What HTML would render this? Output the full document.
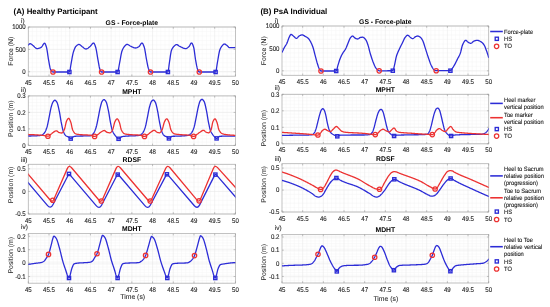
<!DOCTYPE html>
<html><head><meta charset="utf-8"><style>
html,body{margin:0;padding:0;background:#fff;}
body{width:550px;height:307px;overflow:hidden;}
svg{display:block;will-change:transform;filter:blur(0.25px);}
text{font-family:"Liberation Sans", sans-serif;text-rendering:geometricPrecision;}
.tk{font-size:6.75px;fill:#262626;stroke:#262626;stroke-width:0.12px;}
.ti{font-size:6.8px;font-weight:bold;fill:#000;}
.rm{font-size:6.4px;fill:#262626;stroke:#262626;stroke-width:0.1px;}
.yl{font-size:6.85px;fill:#262626;stroke:#262626;stroke-width:0.06px;}
.hd{font-size:7.85px;font-weight:bold;fill:#000;}
.lg{font-size:6.25px;fill:#1a1a1a;stroke:#1a1a1a;stroke-width:0.12px;}
</style></head><body>
<svg width="550" height="307" viewBox="0 0 550 307">
<rect width="550" height="307" fill="#fff"/>
<path d="M32.44 27.00V76.20M36.58 27.00V76.20M40.73 27.00V76.20M44.87 27.00V76.20M53.15 27.00V76.20M57.29 27.00V76.20M61.44 27.00V76.20M65.58 27.00V76.20M73.86 27.00V76.20M78.00 27.00V76.20M82.15 27.00V76.20M86.29 27.00V76.20M94.57 27.00V76.20M98.71 27.00V76.20M102.86 27.00V76.20M107.00 27.00V76.20M115.28 27.00V76.20M119.42 27.00V76.20M123.57 27.00V76.20M127.71 27.00V76.20M135.99 27.00V76.20M140.13 27.00V76.20M144.28 27.00V76.20M148.42 27.00V76.20M156.70 27.00V76.20M160.84 27.00V76.20M164.99 27.00V76.20M169.13 27.00V76.20M177.41 27.00V76.20M181.55 27.00V76.20M185.70 27.00V76.20M189.84 27.00V76.20M198.12 27.00V76.20M202.26 27.00V76.20M206.41 27.00V76.20M210.55 27.00V76.20M218.83 27.00V76.20M222.97 27.00V76.20M227.12 27.00V76.20M231.26 27.00V76.20M28.30 76.20H235.40M28.30 71.73H235.40M28.30 67.25H235.40M28.30 62.78H235.40M28.30 58.31H235.40M28.30 53.84H235.40M28.30 49.36H235.40M28.30 44.89H235.40M28.30 40.42H235.40M28.30 35.95H235.40M28.30 31.47H235.40M28.30 27.00H235.40" stroke="#f4f4f4" stroke-width="0.45" fill="none"/>
<path d="M49.01 27.00V76.20M69.72 27.00V76.20M90.43 27.00V76.20M111.14 27.00V76.20M131.85 27.00V76.20M152.56 27.00V76.20M173.27 27.00V76.20M193.98 27.00V76.20M214.69 27.00V76.20M28.30 71.73H235.40M28.30 49.36H235.40M28.30 27.00H235.40" stroke="#e6e6e6" stroke-width="0.5" fill="none"/>
<clipPath id="cA0"><rect x="28.30" y="27.00" width="207.10" height="49.20"/></clipPath>
<rect x="28.30" y="27.00" width="207.10" height="49.20" fill="none" stroke="#b3b3b3" stroke-width="0.8"/>
<path d="M28.30 76.20v-1.8M28.30 27.00v1.8M49.01 76.20v-1.8M49.01 27.00v1.8M69.72 76.20v-1.8M69.72 27.00v1.8M90.43 76.20v-1.8M90.43 27.00v1.8M111.14 76.20v-1.8M111.14 27.00v1.8M131.85 76.20v-1.8M131.85 27.00v1.8M152.56 76.20v-1.8M152.56 27.00v1.8M173.27 76.20v-1.8M173.27 27.00v1.8M193.98 76.20v-1.8M193.98 27.00v1.8M214.69 76.20v-1.8M214.69 27.00v1.8M235.40 76.20v-1.8M235.40 27.00v1.8M28.30 71.73h1.8M235.40 71.73h-1.8M28.30 49.36h1.8M235.40 49.36h-1.8M28.30 27.00h1.8M235.40 27.00h-1.8" stroke="#8c8c8c" stroke-width="0.5" fill="none"/>
<text transform="translate(28.30 84.80) scale(0.9 1)" text-anchor="middle" class="tk">45</text>
<text transform="translate(49.01 84.80) scale(0.9 1)" text-anchor="middle" class="tk">45.5</text>
<text transform="translate(69.72 84.80) scale(0.9 1)" text-anchor="middle" class="tk">46</text>
<text transform="translate(90.43 84.80) scale(0.9 1)" text-anchor="middle" class="tk">46.5</text>
<text transform="translate(111.14 84.80) scale(0.9 1)" text-anchor="middle" class="tk">47</text>
<text transform="translate(131.85 84.80) scale(0.9 1)" text-anchor="middle" class="tk">47.5</text>
<text transform="translate(152.56 84.80) scale(0.9 1)" text-anchor="middle" class="tk">48</text>
<text transform="translate(173.27 84.80) scale(0.9 1)" text-anchor="middle" class="tk">48.5</text>
<text transform="translate(193.98 84.80) scale(0.9 1)" text-anchor="middle" class="tk">49</text>
<text transform="translate(214.69 84.80) scale(0.9 1)" text-anchor="middle" class="tk">49.5</text>
<text transform="translate(235.40 84.80) scale(0.9 1)" text-anchor="middle" class="tk">50</text>
<text transform="translate(25.70 73.98) scale(0.9 1)" text-anchor="end" class="tk">0</text>
<text transform="translate(25.70 51.61) scale(0.9 1)" text-anchor="end" class="tk">500</text>
<text transform="translate(25.70 29.25) scale(0.9 1)" text-anchor="end" class="tk">1000</text>
<text x="131.85" y="24.70" text-anchor="middle" class="ti">GS - Force-plate</text>
<text x="21.10" y="22.75" class="rm">i)</text>
<text transform="translate(12.50 51.20) rotate(-90)" x="0" y="0" text-anchor="middle" class="yl">Force (N)</text>
<path d="M32.44 95.90V145.40M36.58 95.90V145.40M40.73 95.90V145.40M44.87 95.90V145.40M53.15 95.90V145.40M57.29 95.90V145.40M61.44 95.90V145.40M65.58 95.90V145.40M73.86 95.90V145.40M78.00 95.90V145.40M82.15 95.90V145.40M86.29 95.90V145.40M94.57 95.90V145.40M98.71 95.90V145.40M102.86 95.90V145.40M107.00 95.90V145.40M115.28 95.90V145.40M119.42 95.90V145.40M123.57 95.90V145.40M127.71 95.90V145.40M135.99 95.90V145.40M140.13 95.90V145.40M144.28 95.90V145.40M148.42 95.90V145.40M156.70 95.90V145.40M160.84 95.90V145.40M164.99 95.90V145.40M169.13 95.90V145.40M177.41 95.90V145.40M181.55 95.90V145.40M185.70 95.90V145.40M189.84 95.90V145.40M198.12 95.90V145.40M202.26 95.90V145.40M206.41 95.90V145.40M210.55 95.90V145.40M218.83 95.90V145.40M222.97 95.90V145.40M227.12 95.90V145.40M231.26 95.90V145.40M28.30 145.40H235.40M28.30 142.10H235.40M28.30 138.80H235.40M28.30 135.50H235.40M28.30 132.20H235.40M28.30 128.90H235.40M28.30 125.60H235.40M28.30 122.30H235.40M28.30 119.00H235.40M28.30 115.70H235.40M28.30 112.40H235.40M28.30 109.10H235.40M28.30 105.80H235.40M28.30 102.50H235.40M28.30 99.20H235.40M28.30 95.90H235.40" stroke="#f4f4f4" stroke-width="0.45" fill="none"/>
<path d="M49.01 95.90V145.40M69.72 95.90V145.40M90.43 95.90V145.40M111.14 95.90V145.40M131.85 95.90V145.40M152.56 95.90V145.40M173.27 95.90V145.40M193.98 95.90V145.40M214.69 95.90V145.40M28.30 145.40H235.40M28.30 128.90H235.40M28.30 112.40H235.40M28.30 95.90H235.40" stroke="#e6e6e6" stroke-width="0.5" fill="none"/>
<clipPath id="cA1"><rect x="28.30" y="95.90" width="207.10" height="49.50"/></clipPath>
<rect x="28.30" y="95.90" width="207.10" height="49.50" fill="none" stroke="#b3b3b3" stroke-width="0.8"/>
<path d="M28.30 145.40v-1.8M28.30 95.90v1.8M49.01 145.40v-1.8M49.01 95.90v1.8M69.72 145.40v-1.8M69.72 95.90v1.8M90.43 145.40v-1.8M90.43 95.90v1.8M111.14 145.40v-1.8M111.14 95.90v1.8M131.85 145.40v-1.8M131.85 95.90v1.8M152.56 145.40v-1.8M152.56 95.90v1.8M173.27 145.40v-1.8M173.27 95.90v1.8M193.98 145.40v-1.8M193.98 95.90v1.8M214.69 145.40v-1.8M214.69 95.90v1.8M235.40 145.40v-1.8M235.40 95.90v1.8M28.30 145.40h1.8M235.40 145.40h-1.8M28.30 128.90h1.8M235.40 128.90h-1.8M28.30 112.40h1.8M235.40 112.40h-1.8M28.30 95.90h1.8M235.40 95.90h-1.8" stroke="#8c8c8c" stroke-width="0.5" fill="none"/>
<text transform="translate(28.30 154.00) scale(0.9 1)" text-anchor="middle" class="tk">45</text>
<text transform="translate(49.01 154.00) scale(0.9 1)" text-anchor="middle" class="tk">45.5</text>
<text transform="translate(69.72 154.00) scale(0.9 1)" text-anchor="middle" class="tk">46</text>
<text transform="translate(90.43 154.00) scale(0.9 1)" text-anchor="middle" class="tk">46.5</text>
<text transform="translate(111.14 154.00) scale(0.9 1)" text-anchor="middle" class="tk">47</text>
<text transform="translate(131.85 154.00) scale(0.9 1)" text-anchor="middle" class="tk">47.5</text>
<text transform="translate(152.56 154.00) scale(0.9 1)" text-anchor="middle" class="tk">48</text>
<text transform="translate(173.27 154.00) scale(0.9 1)" text-anchor="middle" class="tk">48.5</text>
<text transform="translate(193.98 154.00) scale(0.9 1)" text-anchor="middle" class="tk">49</text>
<text transform="translate(214.69 154.00) scale(0.9 1)" text-anchor="middle" class="tk">49.5</text>
<text transform="translate(235.40 154.00) scale(0.9 1)" text-anchor="middle" class="tk">50</text>
<text transform="translate(25.70 147.65) scale(0.9 1)" text-anchor="end" class="tk">0</text>
<text transform="translate(25.70 131.15) scale(0.9 1)" text-anchor="end" class="tk">0.1</text>
<text transform="translate(25.70 114.65) scale(0.9 1)" text-anchor="end" class="tk">0.2</text>
<text transform="translate(25.70 98.15) scale(0.9 1)" text-anchor="end" class="tk">0.3</text>
<text x="131.85" y="93.60" text-anchor="middle" class="ti">MPHT</text>
<text x="21.10" y="91.75" class="rm">ii)</text>
<text transform="translate(12.50 118.70) rotate(-90)" x="0" y="0" text-anchor="middle" class="yl">Position (m)</text>
<path d="M32.44 164.30V214.00M36.58 164.30V214.00M40.73 164.30V214.00M44.87 164.30V214.00M53.15 164.30V214.00M57.29 164.30V214.00M61.44 164.30V214.00M65.58 164.30V214.00M73.86 164.30V214.00M78.00 164.30V214.00M82.15 164.30V214.00M86.29 164.30V214.00M94.57 164.30V214.00M98.71 164.30V214.00M102.86 164.30V214.00M107.00 164.30V214.00M115.28 164.30V214.00M119.42 164.30V214.00M123.57 164.30V214.00M127.71 164.30V214.00M135.99 164.30V214.00M140.13 164.30V214.00M144.28 164.30V214.00M148.42 164.30V214.00M156.70 164.30V214.00M160.84 164.30V214.00M164.99 164.30V214.00M169.13 164.30V214.00M177.41 164.30V214.00M181.55 164.30V214.00M185.70 164.30V214.00M189.84 164.30V214.00M198.12 164.30V214.00M202.26 164.30V214.00M206.41 164.30V214.00M210.55 164.30V214.00M218.83 164.30V214.00M222.97 164.30V214.00M227.12 164.30V214.00M231.26 164.30V214.00M28.30 214.00H235.40M28.30 209.48H235.40M28.30 204.96H235.40M28.30 200.45H235.40M28.30 195.93H235.40M28.30 191.41H235.40M28.30 186.89H235.40M28.30 182.37H235.40M28.30 177.85H235.40M28.30 173.34H235.40M28.30 168.82H235.40M28.30 164.30H235.40" stroke="#f4f4f4" stroke-width="0.45" fill="none"/>
<path d="M49.01 164.30V214.00M69.72 164.30V214.00M90.43 164.30V214.00M111.14 164.30V214.00M131.85 164.30V214.00M152.56 164.30V214.00M173.27 164.30V214.00M193.98 164.30V214.00M214.69 164.30V214.00M28.30 214.00H235.40M28.30 191.41H235.40M28.30 168.82H235.40" stroke="#e6e6e6" stroke-width="0.5" fill="none"/>
<clipPath id="cA2"><rect x="28.30" y="164.30" width="207.10" height="49.70"/></clipPath>
<rect x="28.30" y="164.30" width="207.10" height="49.70" fill="none" stroke="#b3b3b3" stroke-width="0.8"/>
<path d="M28.30 214.00v-1.8M28.30 164.30v1.8M49.01 214.00v-1.8M49.01 164.30v1.8M69.72 214.00v-1.8M69.72 164.30v1.8M90.43 214.00v-1.8M90.43 164.30v1.8M111.14 214.00v-1.8M111.14 164.30v1.8M131.85 214.00v-1.8M131.85 164.30v1.8M152.56 214.00v-1.8M152.56 164.30v1.8M173.27 214.00v-1.8M173.27 164.30v1.8M193.98 214.00v-1.8M193.98 164.30v1.8M214.69 214.00v-1.8M214.69 164.30v1.8M235.40 214.00v-1.8M235.40 164.30v1.8M28.30 214.00h1.8M235.40 214.00h-1.8M28.30 191.41h1.8M235.40 191.41h-1.8M28.30 168.82h1.8M235.40 168.82h-1.8" stroke="#8c8c8c" stroke-width="0.5" fill="none"/>
<text transform="translate(28.30 222.60) scale(0.9 1)" text-anchor="middle" class="tk">45</text>
<text transform="translate(49.01 222.60) scale(0.9 1)" text-anchor="middle" class="tk">45.5</text>
<text transform="translate(69.72 222.60) scale(0.9 1)" text-anchor="middle" class="tk">46</text>
<text transform="translate(90.43 222.60) scale(0.9 1)" text-anchor="middle" class="tk">46.5</text>
<text transform="translate(111.14 222.60) scale(0.9 1)" text-anchor="middle" class="tk">47</text>
<text transform="translate(131.85 222.60) scale(0.9 1)" text-anchor="middle" class="tk">47.5</text>
<text transform="translate(152.56 222.60) scale(0.9 1)" text-anchor="middle" class="tk">48</text>
<text transform="translate(173.27 222.60) scale(0.9 1)" text-anchor="middle" class="tk">48.5</text>
<text transform="translate(193.98 222.60) scale(0.9 1)" text-anchor="middle" class="tk">49</text>
<text transform="translate(214.69 222.60) scale(0.9 1)" text-anchor="middle" class="tk">49.5</text>
<text transform="translate(235.40 222.60) scale(0.9 1)" text-anchor="middle" class="tk">50</text>
<text transform="translate(25.70 216.25) scale(0.9 1)" text-anchor="end" class="tk">-0.5</text>
<text transform="translate(25.70 193.66) scale(0.9 1)" text-anchor="end" class="tk">0</text>
<text transform="translate(25.70 171.07) scale(0.9 1)" text-anchor="end" class="tk">0.5</text>
<text x="131.85" y="162.00" text-anchor="middle" class="ti">RDSF</text>
<text x="21.10" y="161.70" class="rm">iii)</text>
<text transform="translate(12.50 184.90) rotate(-90)" x="0" y="0" text-anchor="middle" class="yl">Position (m)</text>
<path d="M32.44 233.60V283.20M36.58 233.60V283.20M40.73 233.60V283.20M44.87 233.60V283.20M53.15 233.60V283.20M57.29 233.60V283.20M61.44 233.60V283.20M65.58 233.60V283.20M73.86 233.60V283.20M78.00 233.60V283.20M82.15 233.60V283.20M86.29 233.60V283.20M94.57 233.60V283.20M98.71 233.60V283.20M102.86 233.60V283.20M107.00 233.60V283.20M115.28 233.60V283.20M119.42 233.60V283.20M123.57 233.60V283.20M127.71 233.60V283.20M135.99 233.60V283.20M140.13 233.60V283.20M144.28 233.60V283.20M148.42 233.60V283.20M156.70 233.60V283.20M160.84 233.60V283.20M164.99 233.60V283.20M169.13 233.60V283.20M177.41 233.60V283.20M181.55 233.60V283.20M185.70 233.60V283.20M189.84 233.60V283.20M198.12 233.60V283.20M202.26 233.60V283.20M206.41 233.60V283.20M210.55 233.60V283.20M218.83 233.60V283.20M222.97 233.60V283.20M227.12 233.60V283.20M231.26 233.60V283.20M28.30 283.20H235.40M28.30 280.52H235.40M28.30 277.84H235.40M28.30 275.16H235.40M28.30 272.48H235.40M28.30 269.79H235.40M28.30 267.11H235.40M28.30 264.43H235.40M28.30 261.75H235.40M28.30 259.07H235.40M28.30 256.39H235.40M28.30 253.71H235.40M28.30 251.03H235.40M28.30 248.35H235.40M28.30 245.66H235.40M28.30 242.98H235.40M28.30 240.30H235.40M28.30 237.62H235.40M28.30 234.94H235.40" stroke="#f4f4f4" stroke-width="0.45" fill="none"/>
<path d="M49.01 233.60V283.20M69.72 233.60V283.20M90.43 233.60V283.20M111.14 233.60V283.20M131.85 233.60V283.20M152.56 233.60V283.20M173.27 233.60V283.20M193.98 233.60V283.20M214.69 233.60V283.20M28.30 276.50H235.40M28.30 263.09H235.40M28.30 249.69H235.40M28.30 236.28H235.40" stroke="#e6e6e6" stroke-width="0.5" fill="none"/>
<clipPath id="cA3"><rect x="28.30" y="233.60" width="207.10" height="49.60"/></clipPath>
<rect x="28.30" y="233.60" width="207.10" height="49.60" fill="none" stroke="#b3b3b3" stroke-width="0.8"/>
<path d="M28.30 283.20v-1.8M28.30 233.60v1.8M49.01 283.20v-1.8M49.01 233.60v1.8M69.72 283.20v-1.8M69.72 233.60v1.8M90.43 283.20v-1.8M90.43 233.60v1.8M111.14 283.20v-1.8M111.14 233.60v1.8M131.85 283.20v-1.8M131.85 233.60v1.8M152.56 283.20v-1.8M152.56 233.60v1.8M173.27 283.20v-1.8M173.27 233.60v1.8M193.98 283.20v-1.8M193.98 233.60v1.8M214.69 283.20v-1.8M214.69 233.60v1.8M235.40 283.20v-1.8M235.40 233.60v1.8M28.30 276.50h1.8M235.40 276.50h-1.8M28.30 263.09h1.8M235.40 263.09h-1.8M28.30 249.69h1.8M235.40 249.69h-1.8M28.30 236.28h1.8M235.40 236.28h-1.8" stroke="#8c8c8c" stroke-width="0.5" fill="none"/>
<text transform="translate(28.30 291.80) scale(0.9 1)" text-anchor="middle" class="tk">45</text>
<text transform="translate(49.01 291.80) scale(0.9 1)" text-anchor="middle" class="tk">45.5</text>
<text transform="translate(69.72 291.80) scale(0.9 1)" text-anchor="middle" class="tk">46</text>
<text transform="translate(90.43 291.80) scale(0.9 1)" text-anchor="middle" class="tk">46.5</text>
<text transform="translate(111.14 291.80) scale(0.9 1)" text-anchor="middle" class="tk">47</text>
<text transform="translate(131.85 291.80) scale(0.9 1)" text-anchor="middle" class="tk">47.5</text>
<text transform="translate(152.56 291.80) scale(0.9 1)" text-anchor="middle" class="tk">48</text>
<text transform="translate(173.27 291.80) scale(0.9 1)" text-anchor="middle" class="tk">48.5</text>
<text transform="translate(193.98 291.80) scale(0.9 1)" text-anchor="middle" class="tk">49</text>
<text transform="translate(214.69 291.80) scale(0.9 1)" text-anchor="middle" class="tk">49.5</text>
<text transform="translate(235.40 291.80) scale(0.9 1)" text-anchor="middle" class="tk">50</text>
<text transform="translate(25.70 278.75) scale(0.9 1)" text-anchor="end" class="tk">-0.1</text>
<text transform="translate(25.70 265.34) scale(0.9 1)" text-anchor="end" class="tk">0</text>
<text transform="translate(25.70 251.94) scale(0.9 1)" text-anchor="end" class="tk">0.1</text>
<text transform="translate(25.70 238.53) scale(0.9 1)" text-anchor="end" class="tk">0.2</text>
<text x="131.85" y="231.30" text-anchor="middle" class="ti">MDHT</text>
<text x="21.10" y="228.80" class="rm">iv)</text>
<text transform="translate(12.50 255.20) rotate(-90)" x="0" y="0" text-anchor="middle" class="yl">Position (m)</text>
<path d="M286.13 26.00V75.30M290.27 26.00V75.30M294.40 26.00V75.30M298.54 26.00V75.30M306.80 26.00V75.30M310.94 26.00V75.30M315.07 26.00V75.30M319.21 26.00V75.30M327.47 26.00V75.30M331.61 26.00V75.30M335.74 26.00V75.30M339.88 26.00V75.30M348.14 26.00V75.30M352.28 26.00V75.30M356.41 26.00V75.30M360.55 26.00V75.30M368.81 26.00V75.30M372.95 26.00V75.30M377.08 26.00V75.30M381.22 26.00V75.30M389.48 26.00V75.30M393.62 26.00V75.30M397.75 26.00V75.30M401.89 26.00V75.30M410.15 26.00V75.30M414.29 26.00V75.30M418.42 26.00V75.30M422.56 26.00V75.30M430.82 26.00V75.30M434.96 26.00V75.30M439.09 26.00V75.30M443.23 26.00V75.30M451.49 26.00V75.30M455.63 26.00V75.30M459.76 26.00V75.30M463.90 26.00V75.30M472.16 26.00V75.30M476.30 26.00V75.30M480.43 26.00V75.30M484.57 26.00V75.30M282.00 75.30H488.70M282.00 70.82H488.70M282.00 66.34H488.70M282.00 61.85H488.70M282.00 57.37H488.70M282.00 52.89H488.70M282.00 48.41H488.70M282.00 43.93H488.70M282.00 39.45H488.70M282.00 34.96H488.70M282.00 30.48H488.70M282.00 26.00H488.70" stroke="#f4f4f4" stroke-width="0.45" fill="none"/>
<path d="M302.67 26.00V75.30M323.34 26.00V75.30M344.01 26.00V75.30M364.68 26.00V75.30M385.35 26.00V75.30M406.02 26.00V75.30M426.69 26.00V75.30M447.36 26.00V75.30M468.03 26.00V75.30M282.00 70.82H488.70M282.00 48.41H488.70M282.00 26.00H488.70" stroke="#e6e6e6" stroke-width="0.5" fill="none"/>
<clipPath id="cB0"><rect x="282.00" y="26.00" width="206.70" height="49.30"/></clipPath>
<rect x="282.00" y="26.00" width="206.70" height="49.30" fill="none" stroke="#b3b3b3" stroke-width="0.8"/>
<path d="M282.00 75.30v-1.8M282.00 26.00v1.8M302.67 75.30v-1.8M302.67 26.00v1.8M323.34 75.30v-1.8M323.34 26.00v1.8M344.01 75.30v-1.8M344.01 26.00v1.8M364.68 75.30v-1.8M364.68 26.00v1.8M385.35 75.30v-1.8M385.35 26.00v1.8M406.02 75.30v-1.8M406.02 26.00v1.8M426.69 75.30v-1.8M426.69 26.00v1.8M447.36 75.30v-1.8M447.36 26.00v1.8M468.03 75.30v-1.8M468.03 26.00v1.8M488.70 75.30v-1.8M488.70 26.00v1.8M282.00 70.82h1.8M488.70 70.82h-1.8M282.00 48.41h1.8M488.70 48.41h-1.8M282.00 26.00h1.8M488.70 26.00h-1.8" stroke="#8c8c8c" stroke-width="0.5" fill="none"/>
<text transform="translate(282.00 83.90) scale(0.9 1)" text-anchor="middle" class="tk">45</text>
<text transform="translate(302.67 83.90) scale(0.9 1)" text-anchor="middle" class="tk">45.5</text>
<text transform="translate(323.34 83.90) scale(0.9 1)" text-anchor="middle" class="tk">46</text>
<text transform="translate(344.01 83.90) scale(0.9 1)" text-anchor="middle" class="tk">46.5</text>
<text transform="translate(364.68 83.90) scale(0.9 1)" text-anchor="middle" class="tk">47</text>
<text transform="translate(385.35 83.90) scale(0.9 1)" text-anchor="middle" class="tk">47.5</text>
<text transform="translate(406.02 83.90) scale(0.9 1)" text-anchor="middle" class="tk">48</text>
<text transform="translate(426.69 83.90) scale(0.9 1)" text-anchor="middle" class="tk">48.5</text>
<text transform="translate(447.36 83.90) scale(0.9 1)" text-anchor="middle" class="tk">49</text>
<text transform="translate(468.03 83.90) scale(0.9 1)" text-anchor="middle" class="tk">49.5</text>
<text transform="translate(488.70 83.90) scale(0.9 1)" text-anchor="middle" class="tk">50</text>
<text transform="translate(279.40 73.07) scale(0.9 1)" text-anchor="end" class="tk">0</text>
<text transform="translate(279.40 50.66) scale(0.9 1)" text-anchor="end" class="tk">500</text>
<text transform="translate(279.40 28.25) scale(0.9 1)" text-anchor="end" class="tk">1000</text>
<text x="385.35" y="23.70" text-anchor="middle" class="ti">GS - Force-plate</text>
<text x="274.80" y="22.55" class="rm">i)</text>
<text transform="translate(266.20 50.70) rotate(-90)" x="0" y="0" text-anchor="middle" class="yl">Force (N)</text>
<path d="M286.13 94.30V143.80M290.27 94.30V143.80M294.40 94.30V143.80M298.54 94.30V143.80M306.80 94.30V143.80M310.94 94.30V143.80M315.07 94.30V143.80M319.21 94.30V143.80M327.47 94.30V143.80M331.61 94.30V143.80M335.74 94.30V143.80M339.88 94.30V143.80M348.14 94.30V143.80M352.28 94.30V143.80M356.41 94.30V143.80M360.55 94.30V143.80M368.81 94.30V143.80M372.95 94.30V143.80M377.08 94.30V143.80M381.22 94.30V143.80M389.48 94.30V143.80M393.62 94.30V143.80M397.75 94.30V143.80M401.89 94.30V143.80M410.15 94.30V143.80M414.29 94.30V143.80M418.42 94.30V143.80M422.56 94.30V143.80M430.82 94.30V143.80M434.96 94.30V143.80M439.09 94.30V143.80M443.23 94.30V143.80M451.49 94.30V143.80M455.63 94.30V143.80M459.76 94.30V143.80M463.90 94.30V143.80M472.16 94.30V143.80M476.30 94.30V143.80M480.43 94.30V143.80M484.57 94.30V143.80M282.00 143.80H488.70M282.00 140.50H488.70M282.00 137.20H488.70M282.00 133.90H488.70M282.00 130.60H488.70M282.00 127.30H488.70M282.00 124.00H488.70M282.00 120.70H488.70M282.00 117.40H488.70M282.00 114.10H488.70M282.00 110.80H488.70M282.00 107.50H488.70M282.00 104.20H488.70M282.00 100.90H488.70M282.00 97.60H488.70M282.00 94.30H488.70" stroke="#f4f4f4" stroke-width="0.45" fill="none"/>
<path d="M302.67 94.30V143.80M323.34 94.30V143.80M344.01 94.30V143.80M364.68 94.30V143.80M385.35 94.30V143.80M406.02 94.30V143.80M426.69 94.30V143.80M447.36 94.30V143.80M468.03 94.30V143.80M282.00 143.80H488.70M282.00 127.30H488.70M282.00 110.80H488.70M282.00 94.30H488.70" stroke="#e6e6e6" stroke-width="0.5" fill="none"/>
<clipPath id="cB1"><rect x="282.00" y="94.30" width="206.70" height="49.50"/></clipPath>
<rect x="282.00" y="94.30" width="206.70" height="49.50" fill="none" stroke="#b3b3b3" stroke-width="0.8"/>
<path d="M282.00 143.80v-1.8M282.00 94.30v1.8M302.67 143.80v-1.8M302.67 94.30v1.8M323.34 143.80v-1.8M323.34 94.30v1.8M344.01 143.80v-1.8M344.01 94.30v1.8M364.68 143.80v-1.8M364.68 94.30v1.8M385.35 143.80v-1.8M385.35 94.30v1.8M406.02 143.80v-1.8M406.02 94.30v1.8M426.69 143.80v-1.8M426.69 94.30v1.8M447.36 143.80v-1.8M447.36 94.30v1.8M468.03 143.80v-1.8M468.03 94.30v1.8M488.70 143.80v-1.8M488.70 94.30v1.8M282.00 143.80h1.8M488.70 143.80h-1.8M282.00 127.30h1.8M488.70 127.30h-1.8M282.00 110.80h1.8M488.70 110.80h-1.8M282.00 94.30h1.8M488.70 94.30h-1.8" stroke="#8c8c8c" stroke-width="0.5" fill="none"/>
<text transform="translate(282.00 152.40) scale(0.9 1)" text-anchor="middle" class="tk">45</text>
<text transform="translate(302.67 152.40) scale(0.9 1)" text-anchor="middle" class="tk">45.5</text>
<text transform="translate(323.34 152.40) scale(0.9 1)" text-anchor="middle" class="tk">46</text>
<text transform="translate(344.01 152.40) scale(0.9 1)" text-anchor="middle" class="tk">46.5</text>
<text transform="translate(364.68 152.40) scale(0.9 1)" text-anchor="middle" class="tk">47</text>
<text transform="translate(385.35 152.40) scale(0.9 1)" text-anchor="middle" class="tk">47.5</text>
<text transform="translate(406.02 152.40) scale(0.9 1)" text-anchor="middle" class="tk">48</text>
<text transform="translate(426.69 152.40) scale(0.9 1)" text-anchor="middle" class="tk">48.5</text>
<text transform="translate(447.36 152.40) scale(0.9 1)" text-anchor="middle" class="tk">49</text>
<text transform="translate(468.03 152.40) scale(0.9 1)" text-anchor="middle" class="tk">49.5</text>
<text transform="translate(488.70 152.40) scale(0.9 1)" text-anchor="middle" class="tk">50</text>
<text transform="translate(279.40 146.05) scale(0.9 1)" text-anchor="end" class="tk">0</text>
<text transform="translate(279.40 129.55) scale(0.9 1)" text-anchor="end" class="tk">0.1</text>
<text transform="translate(279.40 113.05) scale(0.9 1)" text-anchor="end" class="tk">0.2</text>
<text transform="translate(279.40 96.55) scale(0.9 1)" text-anchor="end" class="tk">0.3</text>
<text x="385.35" y="92.00" text-anchor="middle" class="ti">MPHT</text>
<text x="274.80" y="89.85" class="rm">ii)</text>
<text transform="translate(266.20 128.20) rotate(-90)" x="0" y="0" text-anchor="middle" class="yl">Position (m)</text>
<path d="M286.13 163.70V212.00M290.27 163.70V212.00M294.40 163.70V212.00M298.54 163.70V212.00M306.80 163.70V212.00M310.94 163.70V212.00M315.07 163.70V212.00M319.21 163.70V212.00M327.47 163.70V212.00M331.61 163.70V212.00M335.74 163.70V212.00M339.88 163.70V212.00M348.14 163.70V212.00M352.28 163.70V212.00M356.41 163.70V212.00M360.55 163.70V212.00M368.81 163.70V212.00M372.95 163.70V212.00M377.08 163.70V212.00M381.22 163.70V212.00M389.48 163.70V212.00M393.62 163.70V212.00M397.75 163.70V212.00M401.89 163.70V212.00M410.15 163.70V212.00M414.29 163.70V212.00M418.42 163.70V212.00M422.56 163.70V212.00M430.82 163.70V212.00M434.96 163.70V212.00M439.09 163.70V212.00M443.23 163.70V212.00M451.49 163.70V212.00M455.63 163.70V212.00M459.76 163.70V212.00M463.90 163.70V212.00M472.16 163.70V212.00M476.30 163.70V212.00M480.43 163.70V212.00M484.57 163.70V212.00M282.00 212.00H488.70M282.00 207.61H488.70M282.00 203.22H488.70M282.00 198.83H488.70M282.00 194.44H488.70M282.00 190.05H488.70M282.00 185.65H488.70M282.00 181.26H488.70M282.00 176.87H488.70M282.00 172.48H488.70M282.00 168.09H488.70M282.00 163.70H488.70" stroke="#f4f4f4" stroke-width="0.45" fill="none"/>
<path d="M302.67 163.70V212.00M323.34 163.70V212.00M344.01 163.70V212.00M364.68 163.70V212.00M385.35 163.70V212.00M406.02 163.70V212.00M426.69 163.70V212.00M447.36 163.70V212.00M468.03 163.70V212.00M282.00 212.00H488.70M282.00 190.05H488.70M282.00 168.09H488.70" stroke="#e6e6e6" stroke-width="0.5" fill="none"/>
<clipPath id="cB2"><rect x="282.00" y="163.70" width="206.70" height="48.30"/></clipPath>
<rect x="282.00" y="163.70" width="206.70" height="48.30" fill="none" stroke="#b3b3b3" stroke-width="0.8"/>
<path d="M282.00 212.00v-1.8M282.00 163.70v1.8M302.67 212.00v-1.8M302.67 163.70v1.8M323.34 212.00v-1.8M323.34 163.70v1.8M344.01 212.00v-1.8M344.01 163.70v1.8M364.68 212.00v-1.8M364.68 163.70v1.8M385.35 212.00v-1.8M385.35 163.70v1.8M406.02 212.00v-1.8M406.02 163.70v1.8M426.69 212.00v-1.8M426.69 163.70v1.8M447.36 212.00v-1.8M447.36 163.70v1.8M468.03 212.00v-1.8M468.03 163.70v1.8M488.70 212.00v-1.8M488.70 163.70v1.8M282.00 212.00h1.8M488.70 212.00h-1.8M282.00 190.05h1.8M488.70 190.05h-1.8M282.00 168.09h1.8M488.70 168.09h-1.8" stroke="#8c8c8c" stroke-width="0.5" fill="none"/>
<text transform="translate(282.00 220.60) scale(0.9 1)" text-anchor="middle" class="tk">45</text>
<text transform="translate(302.67 220.60) scale(0.9 1)" text-anchor="middle" class="tk">45.5</text>
<text transform="translate(323.34 220.60) scale(0.9 1)" text-anchor="middle" class="tk">46</text>
<text transform="translate(344.01 220.60) scale(0.9 1)" text-anchor="middle" class="tk">46.5</text>
<text transform="translate(364.68 220.60) scale(0.9 1)" text-anchor="middle" class="tk">47</text>
<text transform="translate(385.35 220.60) scale(0.9 1)" text-anchor="middle" class="tk">47.5</text>
<text transform="translate(406.02 220.60) scale(0.9 1)" text-anchor="middle" class="tk">48</text>
<text transform="translate(426.69 220.60) scale(0.9 1)" text-anchor="middle" class="tk">48.5</text>
<text transform="translate(447.36 220.60) scale(0.9 1)" text-anchor="middle" class="tk">49</text>
<text transform="translate(468.03 220.60) scale(0.9 1)" text-anchor="middle" class="tk">49.5</text>
<text transform="translate(488.70 220.60) scale(0.9 1)" text-anchor="middle" class="tk">50</text>
<text transform="translate(279.40 214.25) scale(0.9 1)" text-anchor="end" class="tk">-0.5</text>
<text transform="translate(279.40 192.30) scale(0.9 1)" text-anchor="end" class="tk">0</text>
<text transform="translate(279.40 170.34) scale(0.9 1)" text-anchor="end" class="tk">0.5</text>
<text x="385.35" y="161.40" text-anchor="middle" class="ti">RDSF</text>
<text x="274.80" y="160.75" class="rm">iii)</text>
<text transform="translate(266.20 184.40) rotate(-90)" x="0" y="0" text-anchor="middle" class="yl">Position (m)</text>
<path d="M286.13 234.40V283.00M290.27 234.40V283.00M294.40 234.40V283.00M298.54 234.40V283.00M306.80 234.40V283.00M310.94 234.40V283.00M315.07 234.40V283.00M319.21 234.40V283.00M327.47 234.40V283.00M331.61 234.40V283.00M335.74 234.40V283.00M339.88 234.40V283.00M348.14 234.40V283.00M352.28 234.40V283.00M356.41 234.40V283.00M360.55 234.40V283.00M368.81 234.40V283.00M372.95 234.40V283.00M377.08 234.40V283.00M381.22 234.40V283.00M389.48 234.40V283.00M393.62 234.40V283.00M397.75 234.40V283.00M401.89 234.40V283.00M410.15 234.40V283.00M414.29 234.40V283.00M418.42 234.40V283.00M422.56 234.40V283.00M430.82 234.40V283.00M434.96 234.40V283.00M439.09 234.40V283.00M443.23 234.40V283.00M451.49 234.40V283.00M455.63 234.40V283.00M459.76 234.40V283.00M463.90 234.40V283.00M472.16 234.40V283.00M476.30 234.40V283.00M480.43 234.40V283.00M484.57 234.40V283.00M282.00 283.00H488.70M282.00 280.37H488.70M282.00 277.75H488.70M282.00 275.12H488.70M282.00 272.49H488.70M282.00 269.86H488.70M282.00 267.24H488.70M282.00 264.61H488.70M282.00 261.98H488.70M282.00 259.36H488.70M282.00 256.73H488.70M282.00 254.10H488.70M282.00 251.48H488.70M282.00 248.85H488.70M282.00 246.22H488.70M282.00 243.59H488.70M282.00 240.97H488.70M282.00 238.34H488.70M282.00 235.71H488.70" stroke="#f4f4f4" stroke-width="0.45" fill="none"/>
<path d="M302.67 234.40V283.00M323.34 234.40V283.00M344.01 234.40V283.00M364.68 234.40V283.00M385.35 234.40V283.00M406.02 234.40V283.00M426.69 234.40V283.00M447.36 234.40V283.00M468.03 234.40V283.00M282.00 276.43H488.70M282.00 263.30H488.70M282.00 250.16H488.70M282.00 237.03H488.70" stroke="#e6e6e6" stroke-width="0.5" fill="none"/>
<clipPath id="cB3"><rect x="282.00" y="234.40" width="206.70" height="48.60"/></clipPath>
<rect x="282.00" y="234.40" width="206.70" height="48.60" fill="none" stroke="#b3b3b3" stroke-width="0.8"/>
<path d="M282.00 283.00v-1.8M282.00 234.40v1.8M302.67 283.00v-1.8M302.67 234.40v1.8M323.34 283.00v-1.8M323.34 234.40v1.8M344.01 283.00v-1.8M344.01 234.40v1.8M364.68 283.00v-1.8M364.68 234.40v1.8M385.35 283.00v-1.8M385.35 234.40v1.8M406.02 283.00v-1.8M406.02 234.40v1.8M426.69 283.00v-1.8M426.69 234.40v1.8M447.36 283.00v-1.8M447.36 234.40v1.8M468.03 283.00v-1.8M468.03 234.40v1.8M488.70 283.00v-1.8M488.70 234.40v1.8M282.00 276.43h1.8M488.70 276.43h-1.8M282.00 263.30h1.8M488.70 263.30h-1.8M282.00 250.16h1.8M488.70 250.16h-1.8M282.00 237.03h1.8M488.70 237.03h-1.8" stroke="#8c8c8c" stroke-width="0.5" fill="none"/>
<text transform="translate(282.00 291.60) scale(0.9 1)" text-anchor="middle" class="tk">45</text>
<text transform="translate(302.67 291.60) scale(0.9 1)" text-anchor="middle" class="tk">45.5</text>
<text transform="translate(323.34 291.60) scale(0.9 1)" text-anchor="middle" class="tk">46</text>
<text transform="translate(344.01 291.60) scale(0.9 1)" text-anchor="middle" class="tk">46.5</text>
<text transform="translate(364.68 291.60) scale(0.9 1)" text-anchor="middle" class="tk">47</text>
<text transform="translate(385.35 291.60) scale(0.9 1)" text-anchor="middle" class="tk">47.5</text>
<text transform="translate(406.02 291.60) scale(0.9 1)" text-anchor="middle" class="tk">48</text>
<text transform="translate(426.69 291.60) scale(0.9 1)" text-anchor="middle" class="tk">48.5</text>
<text transform="translate(447.36 291.60) scale(0.9 1)" text-anchor="middle" class="tk">49</text>
<text transform="translate(468.03 291.60) scale(0.9 1)" text-anchor="middle" class="tk">49.5</text>
<text transform="translate(488.70 291.60) scale(0.9 1)" text-anchor="middle" class="tk">50</text>
<text transform="translate(279.40 278.68) scale(0.9 1)" text-anchor="end" class="tk">-0.1</text>
<text transform="translate(279.40 265.55) scale(0.9 1)" text-anchor="end" class="tk">0</text>
<text transform="translate(279.40 252.41) scale(0.9 1)" text-anchor="end" class="tk">0.1</text>
<text transform="translate(279.40 239.28) scale(0.9 1)" text-anchor="end" class="tk">0.2</text>
<text x="385.35" y="232.10" text-anchor="middle" class="ti">MDHT</text>
<text x="274.80" y="229.75" class="rm">iv)</text>
<text transform="translate(266.20 262.30) rotate(-90)" x="0" y="0" text-anchor="middle" class="yl">Position (m)</text>
<polyline clip-path="url(#cA0)" points="28.3,45.00 28.7,44.55 29.1,44.18 29.5,43.90 29.9,43.74 30.3,43.70 30.7,43.80 31.1,44.00 31.5,44.28 31.9,44.60 32.3,44.94 32.7,45.28 33.1,45.57 33.5,45.90 33.9,46.28 34.3,46.68 34.7,47.10 35.1,47.50 35.5,47.86 35.9,48.18 36.3,48.42 36.7,48.56 37.1,48.60 37.5,48.58 37.9,48.53 38.3,48.46 38.7,48.36 39.1,48.25 39.5,48.11 39.9,47.97 40.3,47.80 40.7,47.63 41.1,47.45 41.5,47.11 41.9,46.60 42.3,45.98 42.7,45.31 43.1,44.65 43.5,44.05 43.9,43.57 44.3,43.27 44.7,43.22 45.1,43.61 45.5,44.41 45.9,45.48 46.3,46.69 46.7,48.16 47.1,50.31 47.5,52.90 47.9,55.64 48.3,58.27 48.7,60.54 49.1,62.80 49.5,65.08 49.9,67.15 50.3,68.75 50.7,69.67 51.1,70.33 51.5,70.90 51.9,71.38 52.3,71.74 52.7,71.95 53.1,72.00 53.5,72.00 53.9,72.00 54.3,72.00 54.7,72.00 55.1,72.00 55.5,72.00 55.9,72.00 56.3,72.00 56.7,72.00 57.1,72.00 57.5,72.00 57.9,72.00 58.3,72.00 58.7,72.00 59.1,72.00 59.5,72.00 59.9,72.00 60.3,72.00 60.7,72.00 61.1,72.00 61.5,72.00 61.9,72.00 62.3,72.00 62.7,72.00 63.1,72.00 63.5,72.00 63.9,72.00 64.3,72.00 64.7,72.00 65.1,72.00 65.5,72.00 65.9,72.00 66.3,72.00 66.7,72.00 67.1,72.00 67.5,72.00 67.9,72.00 68.3,72.00 68.7,72.00 69.1,72.00 69.5,71.95 69.9,70.80 70.3,68.63 70.7,66.00 71.1,63.53 71.5,61.43 71.9,59.21 72.3,56.97 72.7,54.88 73.1,53.07 73.5,51.69 73.9,50.52 74.3,49.44 74.7,48.47 75.1,47.63 75.5,46.94 75.9,46.41 76.3,46.00 76.7,45.63 77.1,45.28 77.5,44.98 77.9,44.72 78.3,44.54 78.7,44.43 79.1,44.40 79.5,44.51 79.9,44.73 80.3,45.03 80.7,45.38 81.1,45.75 81.5,46.11 81.9,46.43 82.3,46.71 82.7,47.02 83.1,47.35 83.5,47.68 83.9,48.00 84.3,48.30 84.7,48.57 85.1,48.78 85.5,48.93 85.9,49.00 86.3,48.98 86.7,48.87 87.1,48.70 87.5,48.48 87.9,48.21 88.3,47.90 88.7,47.57 89.1,47.24 89.5,46.90 89.9,46.58 90.3,46.24 90.7,45.81 91.1,45.31 91.5,44.79 91.9,44.28 92.3,43.81 92.7,43.42 93.1,43.14 93.5,43.01 93.9,43.13 94.3,43.67 94.7,44.51 95.1,45.56 95.5,46.71 95.9,48.05 96.3,49.93 96.7,52.20 97.1,54.67 97.5,57.15 97.9,59.47 98.3,61.64 98.7,63.97 99.1,66.19 99.5,68.03 99.9,69.25 100.3,70.22 100.7,71.06 101.1,71.68 101.5,71.99 101.9,72.00 102.3,72.00 102.7,72.00 103.1,72.00 103.5,72.00 103.9,72.00 104.3,72.00 104.7,72.00 105.1,72.00 105.5,72.00 105.9,72.00 106.3,72.00 106.7,72.00 107.1,72.00 107.5,72.00 107.9,72.00 108.3,72.00 108.7,72.00 109.1,72.00 109.5,72.00 109.9,72.00 110.3,72.00 110.7,72.00 111.1,72.00 111.5,72.00 111.9,72.00 112.3,72.00 112.7,72.00 113.1,72.00 113.5,72.00 113.9,72.00 114.3,72.00 114.7,72.00 115.1,72.00 115.5,72.00 115.9,72.00 116.3,72.00 116.7,72.00 117.1,72.00 117.5,72.00 117.9,71.63 118.3,70.22 118.7,68.11 119.1,65.74 119.5,63.49 119.9,61.49 120.3,59.26 120.7,56.95 121.1,54.74 121.5,52.79 121.9,51.29 122.3,50.23 122.7,49.31 123.1,48.50 123.5,47.80 123.9,47.18 124.3,46.65 124.7,46.19 125.1,45.74 125.5,45.31 125.9,44.93 126.3,44.63 126.7,44.45 127.1,44.40 127.5,44.46 127.9,44.59 128.3,44.78 128.7,45.00 129.1,45.26 129.5,45.52 129.9,45.79 130.3,46.04 130.7,46.26 131.1,46.44 131.5,46.62 131.9,46.81 132.3,47.00 132.7,47.19 133.1,47.37 133.5,47.54 133.9,47.69 134.3,47.82 134.7,47.92 135.1,47.98 135.5,48.00 135.9,47.97 136.3,47.89 136.7,47.76 137.1,47.60 137.5,47.40 137.9,47.18 138.3,46.94 138.7,46.69 139.1,46.43 139.5,46.02 139.9,45.46 140.3,44.83 140.7,44.20 141.1,43.64 141.5,43.22 141.9,43.01 142.3,43.11 142.7,43.55 143.1,44.26 143.5,45.16 143.9,46.19 144.3,47.29 144.7,48.90 145.1,51.03 145.5,53.47 145.9,56.00 146.3,58.40 146.7,60.50 147.1,62.57 147.5,64.64 147.9,66.56 148.3,68.14 148.7,69.23 149.1,70.15 149.5,70.96 149.9,71.59 150.3,71.95 150.7,72.00 151.1,72.00 151.5,72.00 151.9,72.00 152.3,72.00 152.7,72.00 153.1,72.00 153.5,72.00 153.9,72.00 154.3,72.00 154.7,72.00 155.1,72.00 155.5,72.00 155.9,72.00 156.3,72.00 156.7,72.00 157.1,72.00 157.5,72.00 157.9,72.00 158.3,72.00 158.7,72.00 159.1,72.00 159.5,72.00 159.9,72.00 160.3,72.00 160.7,72.00 161.1,72.00 161.5,72.00 161.9,72.00 162.3,72.00 162.7,72.00 163.1,72.00 163.5,72.00 163.9,72.00 164.3,72.00 164.7,72.00 165.1,72.00 165.5,72.00 165.9,72.00 166.3,72.00 166.7,72.00 167.1,72.00 167.5,72.00 167.9,72.00 168.3,70.90 168.7,68.23 169.1,64.95 169.5,62.00 169.9,59.33 170.3,56.46 170.7,53.76 171.1,51.58 171.5,50.24 171.9,49.31 172.3,48.52 172.7,47.86 173.1,47.29 173.5,46.81 173.9,46.40 174.3,46.01 174.7,45.63 175.1,45.27 175.5,44.97 175.9,44.74 176.3,44.62 176.7,44.61 177.1,44.71 177.5,44.89 177.9,45.12 178.3,45.39 178.7,45.68 179.1,45.97 179.5,46.23 179.9,46.45 180.3,46.64 180.7,46.83 181.1,47.02 181.5,47.22 181.9,47.42 182.3,47.61 182.7,47.80 183.1,47.98 183.5,48.14 183.9,48.28 184.3,48.40 184.7,48.49 185.1,48.56 185.5,48.60 185.9,48.59 186.3,48.50 186.7,48.33 187.1,48.09 187.5,47.80 187.9,47.48 188.3,47.13 188.7,46.77 189.1,46.40 189.5,45.85 189.9,45.14 190.3,44.38 190.7,43.69 191.1,43.19 191.5,43.00 191.9,43.20 192.3,43.74 192.7,44.56 193.1,45.57 193.5,46.71 193.9,48.22 194.3,50.67 194.7,53.64 195.1,56.71 195.5,59.43 195.9,61.67 196.3,63.89 196.7,65.97 197.1,67.72 197.5,69.00 197.9,69.97 198.3,70.86 198.7,71.55 199.1,71.95 199.5,72.00 199.9,72.00 200.3,72.00 200.7,72.00 201.1,72.00 201.5,72.00 201.9,72.00 202.3,72.00 202.7,72.00 203.1,72.00 203.5,72.00 203.9,72.00 204.3,72.00 204.7,72.00 205.1,72.00 205.5,72.00 205.9,72.00 206.3,72.00 206.7,72.00 207.1,72.00 207.5,72.00 207.9,72.00 208.3,72.00 208.7,72.00 209.1,72.00 209.5,72.00 209.9,72.00 210.3,72.00 210.7,72.00 211.1,72.00 211.5,72.00 211.9,72.00 212.3,72.00 212.7,72.00 213.1,72.00 213.5,72.00 213.9,72.00 214.3,72.00 214.7,72.00 215.1,72.00 215.5,72.00 215.9,71.54 216.3,69.78 216.7,67.23 217.1,64.45 217.5,62.00 217.9,59.76 218.3,57.36 218.7,54.97 219.1,52.79 219.5,50.99 219.9,49.74 220.3,48.77 220.7,47.95 221.1,47.24 221.5,46.63 221.9,46.12 222.3,45.65 222.7,45.19 223.1,44.75 223.5,44.39 223.9,44.13 224.3,44.01 224.7,44.03 225.1,44.17 225.5,44.39 225.9,44.67 226.3,44.98 226.7,45.28 227.1,45.57 227.5,45.94 227.9,46.37 228.3,46.82 228.7,47.23 229.1,47.54 229.5,47.69 229.9,47.70 230.3,47.70 230.7,47.70 231.1,47.70 231.5,47.69 231.9,47.68 232.3,47.68 232.7,47.66 233.1,47.65 233.5,47.62 233.9,47.60 234.3,47.57 234.7,47.53 235.0,47.50" fill="none" stroke="#2c2cd6" stroke-width="1.3" stroke-linejoin="round" stroke-linecap="round"/>
<polyline clip-path="url(#cA1)" points="28.3,136.00 28.7,136.00 29.1,136.00 29.5,136.00 29.9,135.99 30.3,135.99 30.7,135.98 31.1,135.98 31.5,135.97 31.9,135.96 32.3,135.95 32.7,135.94 33.1,135.93 33.5,135.91 33.9,135.90 34.3,135.88 34.7,135.86 35.1,135.84 35.5,135.82 35.9,135.80 36.3,135.78 36.7,135.76 37.1,135.73 37.5,135.70 37.9,135.67 38.3,135.64 38.7,135.61 39.1,135.57 39.5,135.54 39.9,135.50 40.3,135.46 40.7,135.42 41.1,135.37 41.5,135.26 41.9,135.08 42.3,134.84 42.7,134.55 43.1,134.22 43.5,133.84 43.9,133.44 44.3,133.01 44.7,132.52 45.1,131.87 45.5,131.07 45.9,130.14 46.3,129.11 46.7,127.99 47.1,126.75 47.5,125.19 47.9,123.37 48.3,121.40 48.7,119.37 49.1,117.40 49.5,115.37 49.9,113.20 50.3,111.04 50.7,109.05 51.1,107.40 51.5,105.98 51.9,104.65 52.3,103.47 52.7,102.49 53.1,101.80 53.5,101.27 53.9,100.80 54.3,100.44 54.7,100.23 55.1,100.23 55.5,100.44 55.9,100.81 56.3,101.31 56.7,101.89 57.1,102.57 57.5,103.62 57.9,105.00 58.3,106.64 58.7,108.43 59.1,110.28 59.5,112.17 59.9,114.41 60.3,116.87 60.7,119.36 61.1,121.67 61.5,123.68 61.9,125.66 62.3,127.56 62.7,129.29 63.1,130.74 63.5,131.84 63.9,132.76 64.3,133.59 64.7,134.32 65.1,134.93 65.5,135.42 65.9,135.78 66.3,136.05 66.7,136.27 67.1,136.45 67.5,136.61 67.9,136.77 68.3,136.93 68.7,137.13 69.1,137.37 69.5,137.73 69.9,138.13 70.3,138.46 70.7,138.60 71.1,138.52 71.5,138.32 71.9,138.02 72.3,137.67 72.7,137.31 73.1,136.97 73.5,136.70 73.9,136.52 74.3,136.45 74.7,136.38 75.1,136.32 75.5,136.27 75.9,136.23 76.3,136.19 76.7,136.16 77.1,136.13 77.5,136.11 77.9,136.09 78.3,136.08 78.7,136.06 79.1,136.05 79.5,136.04 79.9,136.03 80.3,136.02 80.7,136.01 81.1,136.00 81.5,136.00 81.9,135.99 82.3,135.99 82.7,135.98 83.1,135.98 83.5,135.97 83.9,135.97 84.3,135.96 84.7,135.96 85.1,135.95 85.5,135.95 85.9,135.94 86.3,135.93 86.7,135.92 87.1,135.92 87.5,135.90 87.9,135.89 88.3,135.88 88.7,135.86 89.1,135.85 89.5,135.83 89.9,135.81 90.3,135.76 90.7,135.64 91.1,135.45 91.5,135.20 91.9,134.89 92.3,134.54 92.7,134.15 93.1,133.74 93.5,133.30 93.9,132.77 94.3,132.08 94.7,131.25 95.1,130.30 95.5,129.24 95.9,128.10 96.3,126.79 96.7,125.16 97.1,123.29 97.5,121.29 97.9,119.27 98.3,117.32 98.7,115.27 99.1,113.14 99.5,111.03 99.9,109.09 100.3,107.40 100.7,105.78 101.1,104.22 101.5,102.84 101.9,101.75 102.3,101.06 102.7,100.54 103.1,100.09 103.5,99.76 103.9,99.61 104.3,99.66 104.7,99.92 105.1,100.33 105.5,100.85 105.9,101.45 106.3,102.19 106.7,103.33 107.1,104.79 107.5,106.47 107.9,108.29 108.3,110.14 108.7,112.10 109.1,114.41 109.5,116.90 109.9,119.36 110.3,121.60 110.7,123.58 111.1,125.54 111.5,127.41 111.9,129.08 112.3,130.45 112.7,131.47 113.1,132.31 113.5,133.04 113.9,133.68 114.3,134.26 114.7,134.82 115.1,135.38 115.5,135.91 115.9,136.42 116.3,136.89 116.7,137.31 117.1,137.69 117.5,138.10 117.9,138.48 118.3,138.73 118.7,138.79 119.1,138.68 119.5,138.46 119.9,138.15 120.3,137.80 120.7,137.44 121.1,137.11 121.5,136.85 121.9,136.70 122.3,136.62 122.7,136.54 123.1,136.48 123.5,136.42 123.9,136.37 124.3,136.32 124.7,136.28 125.1,136.24 125.5,136.21 125.9,136.17 126.3,136.14 126.7,136.11 127.1,136.09 127.5,136.06 127.9,136.04 128.3,136.02 128.7,136.00 129.1,135.98 129.5,135.97 129.9,135.95 130.3,135.94 130.7,135.93 131.1,135.91 131.5,135.90 131.9,135.89 132.3,135.87 132.7,135.86 133.1,135.85 133.5,135.83 133.9,135.82 134.3,135.80 134.7,135.78 135.1,135.76 135.5,135.74 135.9,135.71 136.3,135.68 136.7,135.66 137.1,135.62 137.5,135.59 137.9,135.55 138.3,135.51 138.7,135.46 139.1,135.41 139.5,135.34 139.9,135.21 140.3,135.01 140.7,134.76 141.1,134.46 141.5,134.12 141.9,133.74 142.3,133.33 142.7,132.90 143.1,132.37 143.5,131.68 143.9,130.85 144.3,129.90 144.7,128.84 145.1,127.70 145.5,126.39 145.9,124.76 146.3,122.89 146.7,120.89 147.1,118.87 147.5,116.91 147.9,114.84 148.3,112.67 148.7,110.54 149.1,108.62 149.5,107.03 149.9,105.59 150.3,104.23 150.7,103.05 151.1,102.10 151.5,101.47 151.9,100.95 152.3,100.50 152.7,100.17 153.1,100.01 153.5,100.06 153.9,100.32 154.3,100.73 154.7,101.25 155.1,101.85 155.5,102.59 155.9,103.73 156.3,105.19 156.7,106.87 157.1,108.69 157.5,110.54 157.9,112.50 158.3,114.81 158.7,117.30 159.1,119.76 159.5,122.00 159.9,123.98 160.3,125.94 160.7,127.81 161.1,129.48 161.5,130.85 161.9,131.88 162.3,132.78 162.7,133.58 163.1,134.28 163.5,134.86 163.9,135.32 164.3,135.65 164.7,135.91 165.1,136.13 165.5,136.31 165.9,136.47 166.3,136.64 166.7,136.82 167.1,137.04 167.5,137.33 167.9,137.73 168.3,138.11 168.7,138.36 169.1,138.38 169.5,138.22 169.9,137.95 170.3,137.60 170.7,137.23 171.1,136.87 171.5,136.57 171.9,136.36 172.3,136.29 172.7,136.28 173.1,136.26 173.5,136.25 173.9,136.24 174.3,136.24 174.7,136.23 175.1,136.22 175.5,136.21 175.9,136.20 176.3,136.19 176.7,136.17 177.1,136.16 177.5,136.14 177.9,136.13 178.3,136.12 178.7,136.10 179.1,136.09 179.5,136.07 179.9,136.06 180.3,136.04 180.7,136.02 181.1,136.01 181.5,135.99 181.9,135.96 182.3,135.94 182.7,135.92 183.1,135.89 183.5,135.87 183.9,135.84 184.3,135.81 184.7,135.77 185.1,135.74 185.5,135.70 185.9,135.66 186.3,135.61 186.7,135.57 187.1,135.52 187.5,135.47 187.9,135.41 188.3,135.34 188.7,135.20 189.1,135.00 189.5,134.75 189.9,134.46 190.3,134.12 190.7,133.74 191.1,133.33 191.5,132.90 191.9,132.37 192.3,131.68 192.7,130.85 193.1,129.90 193.5,128.84 193.9,127.70 194.3,126.39 194.7,124.76 195.1,122.89 195.5,120.89 195.9,118.87 196.3,116.92 196.7,114.87 197.1,112.73 197.5,110.62 197.9,108.68 198.3,107.00 198.7,105.41 199.1,103.87 199.5,102.51 199.9,101.44 200.3,100.76 200.7,100.24 201.1,99.79 201.5,99.46 201.9,99.31 202.3,99.36 202.7,99.62 203.1,100.03 203.5,100.55 203.9,101.15 204.3,101.89 204.7,103.03 205.1,104.49 205.5,106.17 205.9,107.99 206.3,109.84 206.7,111.80 207.1,114.11 207.5,116.60 207.9,119.06 208.3,121.30 208.7,123.28 209.1,125.24 209.5,127.11 209.9,128.78 210.3,130.15 210.7,131.17 211.1,132.02 211.5,132.75 211.9,133.39 212.3,133.97 212.7,134.53 213.1,135.07 213.5,135.58 213.9,136.06 214.3,136.51 214.7,136.91 215.1,137.29 215.5,137.70 215.9,138.08 216.3,138.33 216.7,138.39 217.1,138.27 217.5,138.03 217.9,137.70 218.3,137.32 218.7,136.96 219.1,136.63 219.5,136.40 219.9,136.30 220.3,136.28 220.7,136.27 221.1,136.25 221.5,136.24 221.9,136.23 222.3,136.22 222.7,136.22 223.1,136.21 223.5,136.20 223.9,136.19 224.3,136.18 224.7,136.18 225.1,136.17 225.5,136.16 225.9,136.15 226.3,136.14 226.7,136.13 227.1,136.13 227.5,136.12 227.9,136.11 228.3,136.10 228.7,136.09 229.1,136.09 229.5,136.08 229.9,136.07 230.3,136.07 230.7,136.06 231.1,136.05 231.5,136.05 231.9,136.04 232.3,136.03 232.7,136.03 233.1,136.02 233.5,136.02 233.9,136.01 234.3,136.01 234.7,136.00 235.0,136.00" fill="none" stroke="#2c2cd6" stroke-width="1.3" stroke-linejoin="round" stroke-linecap="round"/>
<polyline clip-path="url(#cA1)" points="28.3,134.50 28.7,134.51 29.1,134.53 29.5,134.54 29.9,134.56 30.3,134.57 30.7,134.59 31.1,134.60 31.5,134.62 31.9,134.64 32.3,134.66 32.7,134.68 33.1,134.70 33.5,134.72 33.9,134.74 34.3,134.76 34.7,134.78 35.1,134.81 35.5,134.83 35.9,134.85 36.3,134.87 36.7,134.90 37.1,134.92 37.5,134.95 37.9,134.97 38.3,135.00 38.7,135.03 39.1,135.06 39.5,135.09 39.9,135.12 40.3,135.15 40.7,135.18 41.1,135.22 41.5,135.25 41.9,135.29 42.3,135.33 42.7,135.37 43.1,135.41 43.5,135.47 43.9,135.53 44.3,135.61 44.7,135.70 45.1,135.79 45.5,135.88 45.9,135.96 46.3,136.04 46.7,136.10 47.1,136.15 47.5,136.19 47.9,136.20 48.3,136.14 48.7,135.98 49.1,135.74 49.5,135.44 49.9,135.10 50.3,134.75 50.7,134.40 51.1,134.07 51.5,133.77 51.9,133.44 52.3,133.09 52.7,132.75 53.1,132.44 53.5,132.16 53.9,131.92 54.3,131.66 54.7,131.42 55.1,131.19 55.5,131.00 55.9,130.87 56.3,130.80 56.7,130.85 57.1,131.06 57.5,131.38 57.9,131.74 58.3,132.09 58.7,132.37 59.1,132.53 59.5,132.64 59.9,132.74 60.3,132.83 60.7,132.90 61.1,132.96 61.5,132.99 61.9,132.99 62.3,132.82 62.7,132.45 63.1,131.92 63.5,131.28 63.9,130.56 64.3,129.79 64.7,128.56 65.1,126.91 65.5,125.06 65.9,123.27 66.3,121.77 66.7,120.80 67.1,120.03 67.5,119.32 67.9,118.75 68.3,118.39 68.7,118.31 69.1,118.60 69.5,119.18 69.9,119.99 70.3,120.92 70.7,121.90 71.1,123.23 71.5,125.05 71.9,127.02 72.3,128.79 72.7,130.00 73.1,130.79 73.5,131.51 73.9,132.16 74.3,132.72 74.7,133.18 75.1,133.53 75.5,133.76 75.9,133.90 76.3,134.01 76.7,134.11 77.1,134.20 77.5,134.28 77.9,134.35 78.3,134.41 78.7,134.46 79.1,134.51 79.5,134.55 79.9,134.59 80.3,134.63 80.7,134.66 81.1,134.69 81.5,134.72 81.9,134.75 82.3,134.77 82.7,134.79 83.1,134.81 83.5,134.83 83.9,134.84 84.3,134.86 84.7,134.88 85.1,134.89 85.5,134.91 85.9,134.92 86.3,134.94 86.7,134.96 87.1,134.98 87.5,135.00 87.9,135.03 88.3,135.05 88.7,135.08 89.1,135.11 89.5,135.15 89.9,135.19 90.3,135.24 90.7,135.33 91.1,135.44 91.5,135.57 91.9,135.71 92.3,135.86 92.7,136.00 93.1,136.14 93.5,136.25 93.9,136.33 94.3,136.39 94.7,136.40 95.1,136.33 95.5,136.19 95.9,135.98 96.3,135.72 96.7,135.43 97.1,135.11 97.5,134.78 97.9,134.45 98.3,134.14 98.7,133.85 99.1,133.53 99.5,133.18 99.9,132.83 100.3,132.50 100.7,132.19 101.1,131.94 101.5,131.70 101.9,131.45 102.3,131.20 102.7,130.98 103.1,130.79 103.5,130.64 103.9,130.54 104.3,130.50 104.7,130.59 105.1,130.84 105.5,131.17 105.9,131.54 106.3,131.90 106.7,132.17 107.1,132.33 107.5,132.43 107.9,132.53 108.3,132.61 108.7,132.69 109.1,132.74 109.5,132.78 109.9,132.80 110.3,132.74 110.7,132.50 111.1,132.11 111.5,131.59 111.9,130.99 112.3,130.34 112.7,129.59 113.1,128.38 113.5,126.83 113.9,125.15 114.3,123.54 114.7,122.20 115.1,121.32 115.5,120.61 115.9,119.95 116.3,119.40 116.7,119.00 117.1,118.81 117.5,118.91 117.9,119.33 118.3,120.01 118.7,120.85 119.1,121.79 119.5,122.76 119.9,124.15 120.3,125.90 120.7,127.69 121.1,129.22 121.5,130.19 121.9,130.92 122.3,131.59 122.7,132.20 123.1,132.72 123.5,133.16 123.9,133.50 124.3,133.73 124.7,133.85 125.1,133.95 125.5,134.04 125.9,134.12 126.3,134.19 126.7,134.26 127.1,134.31 127.5,134.36 127.9,134.41 128.3,134.45 128.7,134.49 129.1,134.52 129.5,134.56 129.9,134.59 130.3,134.63 130.7,134.66 131.1,134.69 131.5,134.71 131.9,134.74 132.3,134.76 132.7,134.78 133.1,134.80 133.5,134.82 133.9,134.83 134.3,134.85 134.7,134.87 135.1,134.88 135.5,134.90 135.9,134.92 136.3,134.93 136.7,134.95 137.1,134.98 137.5,135.00 137.9,135.02 138.3,135.05 138.7,135.08 139.1,135.11 139.5,135.15 139.9,135.19 140.3,135.24 140.7,135.33 141.1,135.45 141.5,135.58 141.9,135.73 142.3,135.88 142.7,136.02 143.1,136.16 143.5,136.27 143.9,136.35 144.3,136.39 144.7,136.39 145.1,136.31 145.5,136.16 145.9,135.94 146.3,135.69 146.7,135.40 147.1,135.09 147.5,134.77 147.9,134.45 148.3,134.14 148.7,133.86 149.1,133.54 149.5,133.20 149.9,132.85 150.3,132.51 150.7,132.20 151.1,131.94 151.5,131.67 151.9,131.39 152.3,131.11 152.7,130.86 153.1,130.64 153.5,130.46 153.9,130.34 154.3,130.30 154.7,130.39 155.1,130.64 155.5,130.99 155.9,131.37 156.3,131.75 156.7,132.05 157.1,132.24 157.5,132.38 157.9,132.51 158.3,132.62 158.7,132.72 159.1,132.78 159.5,132.80 159.9,132.70 160.3,132.41 160.7,131.98 161.1,131.44 161.5,130.82 161.9,130.17 162.3,129.35 162.7,128.10 163.1,126.59 163.5,124.98 163.9,123.45 164.3,122.18 164.7,121.32 165.1,120.62 165.5,119.96 165.9,119.40 166.3,119.00 166.7,118.81 167.1,118.91 167.5,119.33 167.9,120.01 168.3,120.85 168.7,121.79 169.1,122.76 169.5,124.15 169.9,125.91 170.3,127.70 170.7,129.23 171.1,130.19 171.5,130.90 171.9,131.56 172.3,132.15 172.7,132.67 173.1,133.10 173.5,133.44 173.9,133.69 174.3,133.83 174.7,133.92 175.1,134.01 175.5,134.09 175.9,134.16 176.3,134.22 176.7,134.28 177.1,134.33 177.5,134.37 177.9,134.41 178.3,134.45 178.7,134.49 179.1,134.52 179.5,134.56 179.9,134.59 180.3,134.63 180.7,134.66 181.1,134.69 181.5,134.72 181.9,134.74 182.3,134.77 182.7,134.79 183.1,134.81 183.5,134.83 183.9,134.85 184.3,134.87 184.7,134.89 185.1,134.91 185.5,134.93 185.9,134.95 186.3,134.97 186.7,135.00 187.1,135.03 187.5,135.06 187.9,135.09 188.3,135.13 188.7,135.17 189.1,135.21 189.5,135.28 189.9,135.39 190.3,135.51 190.7,135.65 191.1,135.79 191.5,135.94 191.9,136.07 192.3,136.20 192.7,136.30 193.1,136.37 193.5,136.40 193.9,136.37 194.3,136.27 194.7,136.09 195.1,135.85 195.5,135.57 195.9,135.26 196.3,134.93 196.7,134.60 197.1,134.29 197.5,134.00 197.9,133.72 198.3,133.41 198.7,133.10 199.1,132.78 199.5,132.48 199.9,132.19 200.3,131.94 200.7,131.67 201.1,131.40 201.5,131.12 201.9,130.87 202.3,130.64 202.7,130.46 203.1,130.34 203.5,130.30 203.9,130.39 204.3,130.64 204.7,130.98 205.1,131.37 205.5,131.74 205.9,132.05 206.3,132.24 206.7,132.38 207.1,132.52 207.5,132.64 207.9,132.73 208.3,132.79 208.7,132.79 209.1,132.64 209.5,132.31 209.9,131.83 210.3,131.23 210.7,130.55 211.1,129.78 211.5,128.34 211.9,126.33 212.3,124.20 212.7,122.39 213.1,121.30 213.5,120.50 213.9,119.79 214.3,119.23 214.7,118.89 215.1,118.82 215.5,119.15 215.9,119.82 216.3,120.72 216.7,121.74 217.1,122.77 217.5,124.20 217.9,125.97 218.3,127.76 218.7,129.25 219.1,130.18 219.5,130.84 219.9,131.45 220.3,131.99 220.7,132.48 221.1,132.89 221.5,133.24 221.9,133.52 222.3,133.72 222.7,133.86 223.1,133.98 223.5,134.09 223.9,134.19 224.3,134.28 224.7,134.36 225.1,134.43 225.5,134.49 225.9,134.55 226.3,134.61 226.7,134.66 227.1,134.70 227.5,134.75 227.9,134.79 228.3,134.83 228.7,134.87 229.1,134.91 229.5,134.95 229.9,134.99 230.3,135.03 230.7,135.07 231.1,135.10 231.5,135.13 231.9,135.16 232.3,135.19 232.7,135.22 233.1,135.24 233.5,135.26 233.9,135.27 234.3,135.29 234.7,135.30 235.0,135.30" fill="none" stroke="#ec3232" stroke-width="1.3" stroke-linejoin="round" stroke-linecap="round"/>
<path clip-path="url(#cA2)" d="M27.50 173.30L50.14 200.03Q52.40 202.70 53.80 199.49L67.40 168.37Q69.00 164.70 71.58 167.76L98.84 200.03Q101.10 202.70 102.50 199.49L116.10 168.37Q117.70 164.70 120.30 167.74L147.83 200.04Q150.10 202.70 151.55 199.51L165.74 168.34Q167.40 164.70 169.97 167.77L196.85 199.92Q199.10 202.60 200.45 199.37L213.36 168.39Q214.90 164.70 217.58 167.66L236.00 188.00" fill="none" stroke="#ec3232" stroke-width="1.3" stroke-linejoin="round" stroke-linecap="round"/>
<path clip-path="url(#cA2)" d="M27.50 181.80L47.38 205.38Q50.60 209.20 52.90 204.76L68.31 175.03Q69.00 173.70 69.97 174.84L96.16 205.59Q99.40 209.40 101.69 204.96L117.01 175.23Q117.70 173.90 118.68 175.04L144.85 205.60Q148.10 209.40 150.43 204.98L166.20 175.13Q166.90 173.80 167.88 174.94L194.14 205.51Q197.40 209.30 199.66 204.84L214.72 175.14Q215.40 173.80 216.38 174.93L236.00 197.50" fill="none" stroke="#2c2cd6" stroke-width="1.3" stroke-linejoin="round" stroke-linecap="round"/>
<polyline clip-path="url(#cA3)" points="28.3,264.40 28.7,264.34 29.1,264.27 29.5,264.21 29.9,264.15 30.3,264.09 30.7,264.03 31.1,263.96 31.5,263.90 31.9,263.84 32.3,263.78 32.7,263.72 33.1,263.66 33.5,263.60 33.9,263.54 34.3,263.48 34.7,263.42 35.1,263.36 35.5,263.30 35.9,263.25 36.3,263.20 36.7,263.16 37.1,263.11 37.5,263.07 37.9,263.02 38.3,262.97 38.7,262.92 39.1,262.87 39.5,262.81 39.9,262.75 40.3,262.68 40.7,262.60 41.1,262.52 41.5,262.42 41.9,262.31 42.3,262.17 42.7,261.99 43.1,261.77 43.5,261.52 43.9,261.25 44.3,260.93 44.7,260.49 45.1,259.95 45.5,259.35 45.9,258.75 46.3,258.16 46.7,257.58 47.1,256.98 47.5,256.34 47.9,255.63 48.3,254.84 48.7,253.92 49.1,252.79 49.5,251.47 49.9,250.03 50.3,248.51 50.7,246.96 51.1,245.44 51.5,243.86 51.9,242.15 52.3,240.45 52.7,238.94 53.1,237.67 53.5,236.47 53.9,236.11 54.3,236.30 54.7,236.60 55.1,236.94 55.5,237.37 55.9,237.89 56.3,238.50 56.7,239.27 57.1,240.25 57.5,241.40 57.9,242.68 58.3,244.04 58.7,245.46 59.1,246.90 59.5,248.30 59.9,249.74 60.3,251.30 60.7,252.93 61.1,254.60 61.5,256.27 61.9,257.91 62.3,259.48 62.7,260.95 63.1,262.31 63.5,263.60 63.9,264.84 64.3,266.04 64.7,267.22 65.1,268.38 65.5,269.54 65.9,270.70 66.3,271.93 66.7,273.24 67.1,274.52 67.5,275.69 67.9,276.62 68.3,277.33 68.7,277.93 69.1,278.06 69.5,277.25 69.9,275.85 70.3,274.47 70.7,272.90 71.1,271.17 71.5,269.56 71.9,268.33 72.3,267.25 72.7,266.22 73.1,265.29 73.5,264.54 73.9,264.01 74.3,263.76 74.7,263.63 75.1,263.51 75.5,263.43 75.9,263.35 76.3,263.29 76.7,263.24 77.1,263.19 77.5,263.14 77.9,263.10 78.3,263.06 78.7,263.02 79.1,262.99 79.5,262.96 79.9,262.93 80.3,262.91 80.7,262.89 81.1,262.87 81.5,262.85 81.9,262.83 82.3,262.81 82.7,262.79 83.1,262.78 83.5,262.76 83.9,262.74 84.3,262.72 84.7,262.70 85.1,262.68 85.5,262.66 85.9,262.64 86.3,262.61 86.7,262.58 87.1,262.55 87.5,262.52 87.9,262.48 88.3,262.44 88.7,262.39 89.1,262.34 89.5,262.29 89.9,262.23 90.3,262.16 90.7,262.04 91.1,261.88 91.5,261.67 91.9,261.42 92.3,261.13 92.7,260.81 93.1,260.33 93.5,259.68 93.9,258.96 94.3,258.24 94.7,257.58 95.1,256.97 95.5,256.37 95.9,255.75 96.3,255.08 96.7,254.33 97.1,253.47 97.5,252.42 97.9,251.19 98.3,249.83 98.7,248.38 99.1,246.89 99.5,245.40 99.9,243.95 100.3,242.38 100.7,240.74 101.1,239.18 101.5,237.80 101.9,236.54 102.3,235.48 102.7,235.34 103.1,235.57 103.5,235.88 103.9,236.24 104.3,236.70 104.7,237.26 105.1,237.90 105.5,238.74 105.9,239.79 106.3,240.99 106.7,242.31 107.1,243.70 107.5,245.14 107.9,246.58 108.3,247.99 108.7,249.48 109.1,251.08 109.5,252.74 109.9,254.42 110.3,256.10 110.7,257.73 111.1,259.27 111.5,260.70 111.9,262.03 112.3,263.28 112.7,264.48 113.1,265.65 113.5,266.82 113.9,267.99 114.3,269.20 114.7,270.46 115.1,271.90 115.5,273.43 115.9,274.90 116.3,276.13 116.7,276.98 117.1,277.67 117.5,278.08 117.9,277.76 118.3,276.58 118.7,275.13 119.1,273.72 119.5,272.04 119.9,270.33 120.3,268.89 120.7,267.79 121.1,266.72 121.5,265.74 121.9,264.89 122.3,264.24 122.7,263.85 123.1,263.69 123.5,263.56 123.9,263.46 124.3,263.37 124.7,263.30 125.1,263.25 125.5,263.21 125.9,263.17 126.3,263.14 126.7,263.12 127.1,263.09 127.5,263.07 127.9,263.05 128.3,263.03 128.7,263.01 129.1,263.00 129.5,262.99 129.9,262.98 130.3,262.97 130.7,262.96 131.1,262.95 131.5,262.94 131.9,262.93 132.3,262.92 132.7,262.91 133.1,262.91 133.5,262.90 133.9,262.89 134.3,262.87 134.7,262.86 135.1,262.84 135.5,262.83 135.9,262.81 136.3,262.79 136.7,262.76 137.1,262.74 137.5,262.71 137.9,262.68 138.3,262.64 138.7,262.60 139.1,262.52 139.5,262.36 139.9,262.15 140.3,261.91 140.7,261.64 141.1,261.37 141.5,261.09 141.9,260.78 142.3,260.43 142.7,260.04 143.1,259.60 143.5,259.10 143.9,258.54 144.3,257.91 144.7,257.21 145.1,256.45 145.5,255.62 145.9,254.69 146.3,253.59 146.7,252.35 147.1,251.01 147.5,249.60 147.9,248.18 148.3,246.76 148.7,245.38 149.1,243.91 149.5,242.39 149.9,240.90 150.3,239.51 150.7,238.30 151.1,237.04 151.5,236.40 151.9,236.54 152.3,236.83 152.7,237.14 153.1,237.51 153.5,237.97 153.9,238.50 154.3,239.14 154.7,239.97 155.1,240.99 155.5,242.15 155.9,243.41 156.3,244.75 156.7,246.13 157.1,247.51 157.5,248.85 157.9,250.26 158.3,251.77 158.7,253.34 159.1,254.95 159.5,256.56 159.9,258.13 160.3,259.65 160.7,261.08 161.1,262.40 161.5,263.66 161.9,264.88 162.3,266.06 162.7,267.21 163.1,268.34 163.5,269.44 163.9,270.54 164.3,271.62 164.7,272.75 165.1,273.89 165.5,274.97 165.9,275.92 166.3,276.70 166.7,277.40 167.1,277.92 167.5,277.84 167.9,276.83 168.3,275.39 168.7,274.00 169.1,272.35 169.5,270.62 169.9,269.09 170.3,267.98 170.7,266.97 171.1,266.02 171.5,265.20 171.9,264.54 172.3,264.11 172.7,263.92 173.1,263.79 173.5,263.68 173.9,263.59 174.3,263.52 174.7,263.47 175.1,263.42 175.5,263.38 175.9,263.35 176.3,263.32 176.7,263.29 177.1,263.27 177.5,263.25 177.9,263.23 178.3,263.21 178.7,263.20 179.1,263.19 179.5,263.17 179.9,263.16 180.3,263.15 180.7,263.14 181.1,263.14 181.5,263.13 181.9,263.12 182.3,263.11 182.7,263.10 183.1,263.08 183.5,263.07 183.9,263.06 184.3,263.04 184.7,263.02 185.1,263.00 185.5,262.98 185.9,262.95 186.3,262.92 186.7,262.89 187.1,262.85 187.5,262.81 187.9,262.74 188.3,262.61 188.7,262.41 189.1,262.17 189.5,261.91 189.9,261.63 190.3,261.36 190.7,261.06 191.1,260.72 191.5,260.34 191.9,259.91 192.3,259.44 192.7,258.89 193.1,258.28 193.5,257.60 193.9,256.85 194.3,256.03 194.7,255.13 195.1,254.05 195.5,252.82 195.9,251.46 196.3,250.03 196.7,248.56 197.1,247.08 197.5,245.65 197.9,244.17 198.3,242.60 198.7,241.02 199.1,239.52 199.5,238.19 199.9,236.95 200.3,235.88 200.7,235.74 201.1,235.97 201.5,236.28 201.9,236.66 202.3,237.14 202.7,237.72 203.1,238.40 203.5,239.30 203.9,240.39 204.3,241.64 204.7,243.00 205.1,244.44 205.5,245.91 205.9,247.37 206.3,248.81 206.7,250.37 207.1,252.03 207.5,253.73 207.9,255.45 208.3,257.15 208.7,258.78 209.1,260.31 209.5,261.72 209.9,263.04 210.3,264.30 210.7,265.52 211.1,266.72 211.5,267.91 211.9,269.11 212.3,270.35 212.7,271.69 213.1,273.16 213.5,274.60 213.9,275.87 214.3,276.80 214.7,277.51 215.1,278.02 215.5,277.94 215.9,276.93 216.3,275.49 216.7,274.10 217.1,272.43 217.5,270.67 217.9,269.16 218.3,268.12 218.7,267.21 219.1,266.37 219.5,265.65 219.9,265.09 220.3,264.71 220.7,264.53 221.1,264.40 221.5,264.30 221.9,264.22 222.3,264.15 222.7,264.09 223.1,264.03 223.5,263.97 223.9,263.90 224.3,263.84 224.7,263.78 225.1,263.71 225.5,263.65 225.9,263.59 226.3,263.53 226.7,263.47 227.1,263.41 227.5,263.36 227.9,263.30 228.3,263.25 228.7,263.19 229.1,263.14 229.5,263.09 229.9,263.04 230.3,262.99 230.7,262.95 231.1,262.91 231.5,262.87 231.9,262.83 232.3,262.79 232.7,262.76 233.1,262.73 233.5,262.70 233.9,262.67 234.3,262.65 234.7,262.63 235.1,262.61 235.3,262.60" fill="none" stroke="#2c2cd6" stroke-width="1.3" stroke-linejoin="round" stroke-linecap="round"/>
<polyline clip-path="url(#cB0)" points="282.0,52.20 282.4,51.52 282.8,50.75 283.2,49.93 283.6,49.09 284.0,48.26 284.4,47.47 284.8,46.75 285.2,46.10 285.6,45.49 286.0,44.88 286.4,44.23 286.8,43.50 287.2,42.62 287.6,41.55 288.0,40.37 288.4,39.19 288.8,38.10 289.2,37.20 289.6,36.38 290.0,35.55 290.4,34.87 290.8,34.46 291.2,34.42 291.6,34.56 292.0,34.82 292.4,35.15 292.8,35.52 293.2,35.89 293.6,36.25 294.0,36.56 294.4,36.92 294.8,37.31 295.2,37.69 295.6,38.03 296.0,38.27 296.4,38.39 296.8,38.33 297.2,38.04 297.6,37.61 298.0,37.12 298.4,36.62 298.8,36.21 299.2,35.95 299.6,35.74 300.0,35.54 300.4,35.35 300.8,35.19 301.2,35.06 301.6,34.96 302.0,34.91 302.4,34.91 302.8,34.99 303.2,35.14 303.6,35.35 304.0,35.58 304.4,35.84 304.8,36.10 305.2,36.34 305.6,36.57 306.0,36.79 306.4,37.02 306.8,37.26 307.2,37.52 307.6,37.81 308.0,38.13 308.4,38.50 308.8,38.95 309.2,39.48 309.6,40.08 310.0,40.74 310.4,41.44 310.8,42.17 311.2,42.96 311.6,43.81 312.0,44.74 312.4,45.74 312.8,46.82 313.2,48.02 313.6,49.40 314.0,50.91 314.4,52.50 314.8,54.08 315.2,55.60 315.6,57.10 316.0,58.64 316.4,60.17 316.8,61.65 317.2,63.04 317.6,64.31 318.0,65.54 318.4,66.74 318.8,67.83 319.2,68.76 319.6,69.46 320.0,70.09 320.4,70.63 320.8,70.95 321.2,71.00 321.6,71.00 322.0,71.00 322.4,71.00 322.8,71.00 323.2,71.00 323.6,71.00 324.0,71.00 324.4,71.00 324.8,71.00 325.2,71.00 325.6,71.00 326.0,71.00 326.4,71.00 326.8,71.00 327.2,71.00 327.6,71.00 328.0,71.00 328.4,71.00 328.8,71.00 329.2,71.00 329.6,71.00 330.0,71.00 330.4,71.00 330.8,71.00 331.2,71.00 331.6,71.00 332.0,71.00 332.4,71.00 332.8,71.00 333.2,71.00 333.6,71.00 334.0,71.00 334.4,71.00 334.8,71.00 335.2,71.00 335.6,71.00 336.0,71.00 336.4,70.87 336.8,69.94 337.2,68.44 337.6,66.71 338.0,65.13 338.4,63.85 338.8,62.57 339.2,61.30 339.6,60.07 340.0,58.93 340.4,57.90 340.8,56.98 341.2,56.12 341.6,55.31 342.0,54.55 342.4,53.83 342.8,53.13 343.2,52.48 343.6,51.89 344.0,51.33 344.4,50.77 344.8,50.19 345.2,49.57 345.6,48.88 346.0,48.10 346.4,47.21 346.8,46.25 347.2,45.26 347.6,44.26 348.0,43.30 348.4,42.31 348.8,41.26 349.2,40.22 349.6,39.26 350.0,38.45 350.4,37.87 350.8,37.37 351.2,36.90 351.6,36.50 352.0,36.19 352.4,36.02 352.8,36.03 353.2,36.28 353.6,36.68 354.0,37.15 354.4,37.60 354.8,37.94 355.2,38.15 355.6,38.36 356.0,38.55 356.4,38.72 356.8,38.86 357.2,38.95 357.6,39.00 358.0,38.95 358.4,38.76 358.8,38.48 359.2,38.16 359.6,37.85 360.0,37.60 360.4,37.48 360.8,37.40 361.2,37.33 361.6,37.27 362.0,37.23 362.4,37.20 362.8,37.21 363.2,37.33 363.6,37.53 364.0,37.83 364.4,38.18 364.8,38.59 365.2,39.03 365.6,39.50 366.0,40.08 366.4,40.86 366.8,41.80 367.2,42.84 367.6,43.95 368.0,45.09 368.4,46.42 368.8,47.92 369.2,49.52 369.6,51.11 370.0,52.61 370.4,53.96 370.8,55.27 371.2,56.55 371.6,57.79 372.0,58.99 372.4,60.14 372.8,61.24 373.2,62.26 373.6,63.23 374.0,64.19 374.4,65.13 374.8,66.02 375.2,66.85 375.6,67.59 376.0,68.21 376.4,68.71 376.8,69.15 377.2,69.53 377.6,69.88 378.0,70.17 378.4,70.40 378.8,70.59 379.2,70.75 379.6,70.80 380.0,70.80 380.4,70.80 380.8,70.80 381.2,70.80 381.6,70.80 382.0,70.80 382.4,70.80 382.8,70.80 383.2,70.80 383.6,70.79 384.0,70.79 384.4,70.79 384.8,70.79 385.2,70.79 385.6,70.79 386.0,70.78 386.4,70.78 386.8,70.78 387.2,70.78 387.6,70.77 388.0,70.77 388.4,70.77 388.8,70.76 389.2,70.76 389.6,70.75 390.0,70.75 390.4,70.74 390.8,70.74 391.2,70.73 391.6,70.72 392.0,70.72 392.4,70.71 392.8,70.70 393.2,70.21 393.6,68.96 394.0,67.29 394.4,65.52 394.8,63.86 395.2,61.93 395.6,59.85 396.0,57.89 396.4,56.30 396.8,55.06 397.2,53.95 397.6,52.95 398.0,52.02 398.4,51.14 398.8,50.28 399.2,49.40 399.6,48.53 400.0,47.68 400.4,46.87 400.8,46.06 401.2,45.27 401.6,44.49 402.0,43.70 402.4,42.89 402.8,42.03 403.2,41.15 403.6,40.26 404.0,39.40 404.4,38.61 404.8,37.91 405.2,37.32 405.6,36.84 406.0,36.36 406.4,35.91 406.8,35.54 407.2,35.29 407.6,35.20 408.0,35.28 408.4,35.50 408.8,35.82 409.2,36.20 409.6,36.61 410.0,37.00 410.4,37.35 410.8,37.64 411.2,37.96 411.6,38.27 412.0,38.52 412.4,38.68 412.8,38.68 413.2,38.51 413.6,38.22 414.0,37.87 414.4,37.50 414.8,37.16 415.2,36.90 415.6,36.69 416.0,36.48 416.4,36.28 416.8,36.13 417.2,36.03 417.6,36.00 418.0,36.05 418.4,36.17 418.8,36.33 419.2,36.54 419.6,36.79 420.0,37.06 420.4,37.35 420.8,37.67 421.2,38.10 421.6,38.65 422.0,39.30 422.4,40.02 422.8,40.80 423.2,41.68 423.6,42.76 424.0,44.00 424.4,45.31 424.8,46.64 425.2,47.90 425.6,49.12 426.0,50.37 426.4,51.62 426.8,52.87 427.2,54.11 427.6,55.33 428.0,56.52 428.4,57.68 428.8,58.86 429.2,60.06 429.6,61.24 430.0,62.37 430.4,63.45 430.8,64.43 431.2,65.30 431.6,66.08 432.0,66.84 432.4,67.58 432.8,68.26 433.2,68.87 433.6,69.39 434.0,69.79 434.4,70.06 434.8,70.27 435.2,70.46 435.6,70.61 436.0,70.69 436.4,70.70 436.8,70.70 437.2,70.70 437.6,70.70 438.0,70.70 438.4,70.70 438.8,70.70 439.2,70.70 439.6,70.70 440.0,70.70 440.4,70.70 440.8,70.70 441.2,70.70 441.6,70.70 442.0,70.70 442.4,70.70 442.8,70.70 443.2,70.70 443.6,70.70 444.0,70.70 444.4,70.70 444.8,70.70 445.2,70.70 445.6,70.70 446.0,70.70 446.4,70.70 446.8,70.70 447.2,70.70 447.6,70.70 448.0,70.70 448.4,70.70 448.8,70.70 449.2,70.70 449.6,70.70 450.0,70.70 450.4,70.70 450.8,70.55 451.2,70.15 451.6,69.58 452.0,68.93 452.4,68.26 452.8,67.66 453.2,67.06 453.6,66.42 454.0,65.76 454.4,65.07 454.8,64.36 455.2,63.63 455.6,62.86 456.0,62.06 456.4,61.25 456.8,60.42 457.2,59.60 457.6,58.81 458.0,58.06 458.4,57.33 458.8,56.59 459.2,55.82 459.6,54.98 460.0,54.06 460.4,53.02 460.8,51.64 461.2,49.98 461.6,48.25 462.0,46.62 462.4,45.29 462.8,44.37 463.2,43.53 463.6,42.72 464.0,41.98 464.4,41.34 464.8,40.82 465.2,40.47 465.6,40.31 466.0,40.36 466.4,40.61 466.8,40.98 467.2,41.40 467.6,41.80 468.0,42.10 468.4,42.34 468.8,42.58 469.2,42.81 469.6,43.02 470.0,43.18 470.4,43.28 470.8,43.30 471.2,43.19 471.6,42.96 472.0,42.65 472.4,42.29 472.8,41.92 473.2,41.56 473.6,41.26 474.0,41.04 474.4,40.90 474.8,40.77 475.2,40.64 475.6,40.53 476.0,40.44 476.4,40.36 476.8,40.32 477.2,40.30 477.6,40.32 478.0,40.39 478.4,40.50 478.8,40.65 479.2,40.82 479.6,41.02 480.0,41.23 480.4,41.45 480.8,41.68 481.2,41.92 481.6,42.20 482.0,42.52 482.4,42.88 482.8,43.29 483.2,43.75 483.6,44.25 484.0,44.80 484.4,45.47 484.8,46.31 485.2,47.28 485.6,48.32 486.0,49.40 486.4,50.47 486.8,51.56 487.2,52.72 487.6,53.92 488.0,55.16 488.4,56.45 488.7,57.44" fill="none" stroke="#2c2cd6" stroke-width="1.3" stroke-linejoin="round" stroke-linecap="round"/>
<polyline clip-path="url(#cB1)" points="282.0,135.40 282.4,135.39 282.8,135.39 283.2,135.38 283.6,135.37 284.0,135.36 284.4,135.36 284.8,135.35 285.2,135.34 285.6,135.34 286.0,135.33 286.4,135.32 286.8,135.32 287.2,135.31 287.6,135.30 288.0,135.30 288.4,135.29 288.8,135.28 289.2,135.28 289.6,135.27 290.0,135.27 290.4,135.26 290.8,135.26 291.2,135.25 291.6,135.24 292.0,135.24 292.4,135.23 292.8,135.23 293.2,135.22 293.6,135.22 294.0,135.21 294.4,135.21 294.8,135.20 295.2,135.20 295.6,135.19 296.0,135.19 296.4,135.19 296.8,135.18 297.2,135.18 297.6,135.18 298.0,135.17 298.4,135.17 298.8,135.17 299.2,135.16 299.6,135.16 300.0,135.16 300.4,135.15 300.8,135.15 301.2,135.15 301.6,135.14 302.0,135.14 302.4,135.14 302.8,135.13 303.2,135.13 303.6,135.12 304.0,135.12 304.4,135.11 304.8,135.10 305.2,135.10 305.6,135.09 306.0,135.08 306.4,135.07 306.8,135.06 307.2,135.05 307.6,135.03 308.0,135.02 308.4,135.00 308.8,134.98 309.2,134.95 309.6,134.93 310.0,134.90 310.4,134.87 310.8,134.83 311.2,134.79 311.6,134.75 312.0,134.70 312.4,134.59 312.8,134.36 313.2,134.04 313.6,133.65 314.0,133.20 314.4,132.70 314.8,132.04 315.2,131.14 315.6,130.06 316.0,128.90 316.4,127.62 316.8,126.12 317.2,124.47 317.6,122.80 318.0,121.21 318.4,119.59 318.8,117.95 319.2,116.37 319.6,114.93 320.0,113.61 320.4,112.29 320.8,111.11 321.2,110.20 321.6,109.66 322.0,109.21 322.4,108.87 322.8,108.71 323.2,108.80 323.6,109.20 324.0,109.80 324.4,110.50 324.8,111.47 325.2,112.85 325.6,114.45 326.0,116.13 326.4,118.12 326.8,120.31 327.2,122.35 327.6,124.10 328.0,125.78 328.4,127.32 328.8,128.64 329.2,129.70 329.6,130.65 330.0,131.48 330.4,132.17 330.8,132.70 331.2,133.11 331.6,133.46 332.0,133.76 332.4,134.02 332.8,134.27 333.2,134.50 333.6,134.73 334.0,134.93 334.4,135.13 334.8,135.31 335.2,135.48 335.6,135.64 336.0,135.81 336.4,135.99 336.8,136.13 337.2,136.20 337.6,136.17 338.0,136.04 338.4,135.86 338.8,135.68 339.2,135.52 339.6,135.36 340.0,135.23 340.4,135.19 340.8,135.17 341.2,135.16 341.6,135.15 342.0,135.14 342.4,135.13 342.8,135.13 343.2,135.12 343.6,135.12 344.0,135.11 344.4,135.11 344.8,135.10 345.2,135.10 345.6,135.09 346.0,135.09 346.4,135.08 346.8,135.07 347.2,135.07 347.6,135.06 348.0,135.06 348.4,135.05 348.8,135.05 349.2,135.04 349.6,135.04 350.0,135.03 350.4,135.03 350.8,135.02 351.2,135.02 351.6,135.02 352.0,135.01 352.4,135.01 352.8,135.01 353.2,135.00 353.6,135.00 354.0,135.00 354.4,135.00 354.8,135.00 355.2,135.00 355.6,135.00 356.0,135.00 356.4,135.00 356.8,135.00 357.2,135.00 357.6,135.00 358.0,135.00 358.4,135.00 358.8,135.00 359.2,135.00 359.6,135.00 360.0,135.00 360.4,135.00 360.8,135.00 361.2,135.00 361.6,135.00 362.0,135.00 362.4,135.00 362.8,135.00 363.2,135.00 363.6,135.00 364.0,134.99 364.4,134.98 364.8,134.97 365.2,134.96 365.6,134.94 366.0,134.92 366.4,134.89 366.8,134.86 367.2,134.83 367.6,134.80 368.0,134.76 368.4,134.71 368.8,134.67 369.2,134.62 369.6,134.56 370.0,134.50 370.4,134.37 370.8,134.11 371.2,133.74 371.6,133.29 372.0,132.77 372.4,132.20 372.8,131.43 373.2,130.38 373.6,129.14 374.0,127.83 374.4,126.45 374.8,124.87 375.2,123.19 375.6,121.54 376.0,120.04 376.4,118.56 376.8,117.10 377.2,115.69 377.6,114.40 378.0,113.28 378.4,112.35 378.8,111.50 379.2,110.75 379.6,110.19 380.0,109.85 380.4,109.57 380.8,109.38 381.2,109.30 381.6,109.48 382.0,109.96 382.4,110.63 382.8,111.40 383.2,112.33 383.6,113.65 384.0,115.22 384.4,116.89 384.8,118.50 385.2,120.19 385.6,121.97 386.0,123.72 386.4,125.33 386.8,126.79 387.2,128.22 387.6,129.53 388.0,130.59 388.4,131.34 388.8,131.95 389.2,132.48 389.6,132.93 390.0,133.34 390.4,133.72 390.8,134.08 391.2,134.42 391.6,134.74 392.0,135.01 392.4,135.25 392.8,135.45 393.2,135.65 393.6,135.81 394.0,135.90 394.4,135.87 394.8,135.77 395.2,135.63 395.6,135.50 396.0,135.37 396.4,135.22 396.8,135.12 397.2,135.09 397.6,135.08 398.0,135.07 398.4,135.06 398.8,135.05 399.2,135.05 399.6,135.04 400.0,135.04 400.4,135.03 400.8,135.03 401.2,135.02 401.6,135.02 402.0,135.02 402.4,135.01 402.8,135.00 403.2,135.00 403.6,134.99 404.0,134.98 404.4,134.97 404.8,134.96 405.2,134.95 405.6,134.94 406.0,134.93 406.4,134.92 406.8,134.91 407.2,134.90 407.6,134.89 408.0,134.88 408.4,134.87 408.8,134.87 409.2,134.86 409.6,134.85 410.0,134.84 410.4,134.83 410.8,134.82 411.2,134.81 411.6,134.81 412.0,134.80 412.4,134.79 412.8,134.79 413.2,134.78 413.6,134.78 414.0,134.77 414.4,134.77 414.8,134.77 415.2,134.76 415.6,134.76 416.0,134.75 416.4,134.75 416.8,134.75 417.2,134.74 417.6,134.74 418.0,134.73 418.4,134.73 418.8,134.72 419.2,134.72 419.6,134.71 420.0,134.70 420.4,134.69 420.8,134.68 421.2,134.67 421.6,134.66 422.0,134.65 422.4,134.64 422.8,134.62 423.2,134.61 423.6,134.59 424.0,134.57 424.4,134.54 424.8,134.52 425.2,134.49 425.6,134.45 426.0,134.41 426.4,134.37 426.8,134.32 427.2,134.25 427.6,134.03 428.0,133.65 428.4,133.16 428.8,132.58 429.2,131.94 429.6,131.21 430.0,130.15 430.4,128.84 430.8,127.39 431.2,125.93 431.6,124.32 432.0,122.57 432.4,120.79 432.8,119.10 433.2,117.52 433.6,115.93 434.0,114.42 434.4,113.06 434.8,111.94 435.2,110.89 435.6,109.93 436.0,109.16 436.4,108.70 436.8,108.44 437.2,108.23 437.6,108.12 438.0,108.14 438.4,108.43 438.8,108.94 439.2,109.56 439.6,110.31 440.0,111.46 440.4,112.93 440.8,114.52 441.2,116.09 441.6,117.74 442.0,119.50 442.4,121.28 442.8,122.99 443.2,124.64 443.6,126.34 444.0,127.95 444.4,129.28 444.8,130.24 445.2,131.05 445.6,131.75 446.0,132.37 446.4,132.91 446.8,133.39 447.2,133.80 447.6,134.19 448.0,134.53 448.4,134.84 448.8,135.09 449.2,135.30 449.6,135.48 450.0,135.65 450.4,135.79 450.8,135.88 451.2,135.90 451.6,135.83 452.0,135.70 452.4,135.56 452.8,135.44 453.2,135.30 453.6,135.18 454.0,135.10 454.4,135.06 454.8,135.03 455.2,134.99 455.6,134.96 456.0,134.94 456.4,134.91 456.8,134.88 457.2,134.86 457.6,134.84 458.0,134.82 458.4,134.80 458.8,134.78 459.2,134.77 459.6,134.75 460.0,134.74 460.4,134.72 460.8,134.71 461.2,134.70 461.6,134.69 462.0,134.68 462.4,134.67 462.8,134.66 463.2,134.65 463.6,134.64 464.0,134.63 464.4,134.62 464.8,134.61 465.2,134.59 465.6,134.58 466.0,134.57 466.4,134.56 466.8,134.55 467.2,134.55 467.6,134.54 468.0,134.53 468.4,134.52 468.8,134.51 469.2,134.50 469.6,134.50 470.0,134.49 470.4,134.48 470.8,134.47 471.2,134.47 471.6,134.46 472.0,134.45 472.4,134.45 472.8,134.44 473.2,134.43 473.6,134.42 474.0,134.42 474.4,134.41 474.8,134.40 475.2,134.40 475.6,134.39 476.0,134.38 476.4,134.38 476.8,134.38 477.2,134.37 477.6,134.37 478.0,134.36 478.4,134.36 478.8,134.35 479.2,134.34 479.6,134.34 480.0,134.33 480.4,134.32 480.8,134.31 481.2,134.29 481.6,134.25 482.0,134.19 482.4,134.10 482.8,134.00 483.2,133.88 483.6,133.74 484.0,133.60 484.4,133.44 484.8,133.26 485.2,133.02 485.6,132.72 486.0,132.38 486.4,132.00 486.8,131.60 487.2,131.14 487.6,130.60 488.0,129.99 488.4,129.33 488.7,128.80" fill="none" stroke="#2c2cd6" stroke-width="1.3" stroke-linejoin="round" stroke-linecap="round"/>
<polyline clip-path="url(#cB1)" points="282.0,132.40 282.4,132.42 282.8,132.45 283.2,132.47 283.6,132.49 284.0,132.51 284.4,132.54 284.8,132.56 285.2,132.58 285.6,132.61 286.0,132.63 286.4,132.66 286.8,132.68 287.2,132.70 287.6,132.73 288.0,132.75 288.4,132.78 288.8,132.80 289.2,132.83 289.6,132.85 290.0,132.88 290.4,132.90 290.8,132.93 291.2,132.95 291.6,132.98 292.0,133.01 292.4,133.03 292.8,133.06 293.2,133.08 293.6,133.11 294.0,133.13 294.4,133.16 294.8,133.19 295.2,133.21 295.6,133.24 296.0,133.27 296.4,133.29 296.8,133.32 297.2,133.35 297.6,133.37 298.0,133.40 298.4,133.43 298.8,133.45 299.2,133.48 299.6,133.51 300.0,133.54 300.4,133.56 300.8,133.59 301.2,133.62 301.6,133.65 302.0,133.68 302.4,133.71 302.8,133.73 303.2,133.76 303.6,133.79 304.0,133.82 304.4,133.85 304.8,133.88 305.2,133.92 305.6,133.95 306.0,133.98 306.4,134.01 306.8,134.04 307.2,134.08 307.6,134.11 308.0,134.14 308.4,134.18 308.8,134.21 309.2,134.25 309.6,134.28 310.0,134.32 310.4,134.35 310.8,134.39 311.2,134.43 311.6,134.46 312.0,134.50 312.4,134.54 312.8,134.59 313.2,134.64 313.6,134.69 314.0,134.74 314.4,134.80 314.8,134.85 315.2,134.90 315.6,134.95 316.0,134.99 316.4,135.03 316.8,135.06 317.2,135.08 317.6,135.10 318.0,135.09 318.4,134.96 318.8,134.69 319.2,134.33 319.6,133.91 320.0,133.50 320.4,133.09 320.8,132.61 321.2,132.06 321.6,131.51 322.0,130.99 322.4,130.56 322.8,130.25 323.2,129.96 323.6,129.68 324.0,129.45 324.4,129.28 324.8,129.20 325.2,129.24 325.6,129.38 326.0,129.60 326.4,129.86 326.8,130.12 327.2,130.35 327.6,130.55 328.0,130.76 328.4,130.98 328.8,131.19 329.2,131.37 329.6,131.51 330.0,131.59 330.4,131.58 330.8,131.43 331.2,131.16 331.6,130.81 332.0,130.40 332.4,129.97 332.8,129.56 333.2,129.20 333.6,128.83 334.0,128.41 334.4,127.96 334.8,127.52 335.2,127.12 335.6,126.80 336.0,126.58 336.4,126.50 336.8,126.59 337.2,126.82 337.6,127.16 338.0,127.57 338.4,128.00 338.8,128.41 339.2,128.79 339.6,129.22 340.0,129.68 340.4,130.14 340.8,130.55 341.2,130.88 341.6,131.10 342.0,131.29 342.4,131.47 342.8,131.63 343.2,131.78 343.6,131.91 344.0,132.02 344.4,132.10 344.8,132.17 345.2,132.22 345.6,132.27 346.0,132.31 346.4,132.35 346.8,132.39 347.2,132.42 347.6,132.46 348.0,132.49 348.4,132.52 348.8,132.54 349.2,132.57 349.6,132.60 350.0,132.62 350.4,132.64 350.8,132.66 351.2,132.68 351.6,132.70 352.0,132.72 352.4,132.74 352.8,132.75 353.2,132.77 353.6,132.79 354.0,132.80 354.4,132.82 354.8,132.84 355.2,132.86 355.6,132.87 356.0,132.89 356.4,132.91 356.8,132.93 357.2,132.95 357.6,132.98 358.0,133.00 358.4,133.02 358.8,133.05 359.2,133.07 359.6,133.09 360.0,133.11 360.4,133.13 360.8,133.16 361.2,133.18 361.6,133.20 362.0,133.23 362.4,133.26 362.8,133.28 363.2,133.32 363.6,133.35 364.0,133.39 364.4,133.43 364.8,133.47 365.2,133.51 365.6,133.56 366.0,133.61 366.4,133.66 366.8,133.71 367.2,133.76 367.6,133.81 368.0,133.86 368.4,133.91 368.8,133.96 369.2,134.01 369.6,134.05 370.0,134.10 370.4,134.15 370.8,134.20 371.2,134.26 371.6,134.32 372.0,134.38 372.4,134.44 372.8,134.50 373.2,134.55 373.6,134.60 374.0,134.64 374.4,134.67 374.8,134.69 375.2,134.70 375.6,134.66 376.0,134.52 376.4,134.29 376.8,134.00 377.2,133.69 377.6,133.37 378.0,133.05 378.4,132.66 378.8,132.22 379.2,131.75 379.6,131.30 380.0,130.89 380.4,130.54 380.8,130.27 381.2,130.02 381.6,129.77 382.0,129.54 382.4,129.36 382.8,129.24 383.2,129.20 383.6,129.27 384.0,129.45 384.4,129.70 384.8,129.99 385.2,130.29 385.6,130.55 386.0,130.74 386.4,130.92 386.8,131.11 387.2,131.29 387.6,131.47 388.0,131.62 388.4,131.75 388.8,131.84 389.2,131.89 389.6,131.87 390.0,131.64 390.4,131.26 390.8,130.79 391.2,130.31 391.6,129.89 392.0,129.53 392.4,129.14 392.8,128.75 393.2,128.40 393.6,128.13 394.0,128.01 394.4,128.12 394.8,128.56 395.2,129.20 395.6,129.92 396.0,130.56 396.4,131.00 396.8,131.28 397.2,131.53 397.6,131.76 398.0,131.95 398.4,132.09 398.8,132.20 399.2,132.28 399.6,132.34 400.0,132.40 400.4,132.45 400.8,132.50 401.2,132.54 401.6,132.58 402.0,132.61 402.4,132.65 402.8,132.68 403.2,132.72 403.6,132.75 404.0,132.78 404.4,132.81 404.8,132.84 405.2,132.87 405.6,132.90 406.0,132.93 406.4,132.95 406.8,132.98 407.2,133.00 407.6,133.03 408.0,133.05 408.4,133.07 408.8,133.10 409.2,133.12 409.6,133.15 410.0,133.17 410.4,133.19 410.8,133.22 411.2,133.25 411.6,133.27 412.0,133.30 412.4,133.33 412.8,133.36 413.2,133.39 413.6,133.42 414.0,133.45 414.4,133.48 414.8,133.51 415.2,133.54 415.6,133.57 416.0,133.61 416.4,133.64 416.8,133.67 417.2,133.70 417.6,133.73 418.0,133.76 418.4,133.79 418.8,133.82 419.2,133.85 419.6,133.87 420.0,133.90 420.4,133.93 420.8,133.95 421.2,133.97 421.6,134.00 422.0,134.02 422.4,134.04 422.8,134.06 423.2,134.08 423.6,134.10 424.0,134.13 424.4,134.15 424.8,134.17 425.2,134.19 425.6,134.21 426.0,134.24 426.4,134.26 426.8,134.29 427.2,134.31 427.6,134.35 428.0,134.38 428.4,134.42 428.8,134.46 429.2,134.50 429.6,134.54 430.0,134.58 430.4,134.61 430.8,134.64 431.2,134.67 431.6,134.69 432.0,134.70 432.4,134.69 432.8,134.56 433.2,134.28 433.6,133.90 434.0,133.46 434.4,133.02 434.8,132.60 435.2,132.10 435.6,131.53 436.0,130.95 436.4,130.41 436.8,129.97 437.2,129.66 437.6,129.37 438.0,129.10 438.4,128.88 438.8,128.71 439.2,128.61 439.6,128.62 440.0,128.75 440.4,128.98 440.8,129.28 441.2,129.61 441.6,129.94 442.0,130.23 442.4,130.45 442.8,130.66 443.2,130.89 443.6,131.10 444.0,131.30 444.4,131.46 444.8,131.56 445.2,131.60 445.6,131.50 446.0,131.22 446.4,130.81 446.8,130.31 447.2,129.78 447.6,129.26 448.0,128.80 448.4,128.41 448.8,127.98 449.2,127.53 449.6,127.12 450.0,126.77 450.4,126.55 450.8,126.51 451.2,126.73 451.6,127.17 452.0,127.76 452.4,128.41 452.8,129.05 453.2,129.59 453.6,129.98 454.0,130.36 454.4,130.72 454.8,131.06 455.2,131.37 455.6,131.64 456.0,131.85 456.4,132.00 456.8,132.10 457.2,132.19 457.6,132.27 458.0,132.34 458.4,132.40 458.8,132.46 459.2,132.51 459.6,132.55 460.0,132.60 460.4,132.64 460.8,132.69 461.2,132.73 461.6,132.77 462.0,132.81 462.4,132.84 462.8,132.88 463.2,132.91 463.6,132.95 464.0,132.98 464.4,133.01 464.8,133.04 465.2,133.07 465.6,133.10 466.0,133.13 466.4,133.16 466.8,133.18 467.2,133.21 467.6,133.24 468.0,133.27 468.4,133.29 468.8,133.32 469.2,133.35 469.6,133.37 470.0,133.40 470.4,133.43 470.8,133.45 471.2,133.48 471.6,133.51 472.0,133.53 472.4,133.56 472.8,133.58 473.2,133.61 473.6,133.63 474.0,133.65 474.4,133.68 474.8,133.70 475.2,133.72 475.6,133.75 476.0,133.77 476.4,133.79 476.8,133.82 477.2,133.84 477.6,133.86 478.0,133.88 478.4,133.91 478.8,133.93 479.2,133.95 479.6,133.98 480.0,134.00 480.4,134.02 480.8,134.05 481.2,134.07 481.6,134.09 482.0,134.12 482.4,134.14 482.8,134.16 483.2,134.19 483.6,134.21 484.0,134.23 484.4,134.26 484.8,134.28 485.2,134.30 485.6,134.32 486.0,134.35 486.4,134.37 486.8,134.39 487.2,134.42 487.6,134.44 488.0,134.46 488.4,134.48 488.7,134.50" fill="none" stroke="#ec3232" stroke-width="1.3" stroke-linejoin="round" stroke-linecap="round"/>
<polyline clip-path="url(#cB2)" points="282.0,172.00 282.4,172.12 282.8,172.25 283.2,172.38 283.6,172.51 284.0,172.64 284.4,172.77 284.8,172.90 285.2,173.04 285.6,173.17 286.0,173.31 286.4,173.45 286.8,173.59 287.2,173.73 287.6,173.87 288.0,174.02 288.4,174.16 288.8,174.31 289.2,174.46 289.6,174.61 290.0,174.76 290.4,174.91 290.8,175.06 291.2,175.22 291.6,175.37 292.0,175.53 292.4,175.69 292.8,175.84 293.2,176.00 293.6,176.16 294.0,176.33 294.4,176.49 294.8,176.65 295.2,176.82 295.6,176.98 296.0,177.15 296.4,177.32 296.8,177.49 297.2,177.66 297.6,177.83 298.0,178.00 298.4,178.17 298.8,178.35 299.2,178.53 299.6,178.71 300.0,178.89 300.4,179.07 300.8,179.26 301.2,179.45 301.6,179.64 302.0,179.83 302.4,180.02 302.8,180.22 303.2,180.41 303.6,180.61 304.0,180.81 304.4,181.01 304.8,181.21 305.2,181.42 305.6,181.62 306.0,181.83 306.4,182.03 306.8,182.24 307.2,182.45 307.6,182.66 308.0,182.87 308.4,183.08 308.8,183.29 309.2,183.50 309.6,183.72 310.0,183.93 310.4,184.14 310.8,184.36 311.2,184.57 311.6,184.79 312.0,185.00 312.4,185.22 312.8,185.44 313.2,185.67 313.6,185.91 314.0,186.15 314.4,186.39 314.8,186.63 315.2,186.86 315.6,187.10 316.0,187.33 316.4,187.56 316.8,187.78 317.2,188.00 317.6,188.20 318.0,188.40 318.4,188.61 318.8,188.83 319.2,189.05 319.6,189.25 320.0,189.40 320.4,189.49 320.8,189.49 321.2,189.42 321.6,189.29 322.0,189.11 322.4,188.91 322.8,188.67 323.2,188.29 323.6,187.79 324.0,187.23 324.4,186.64 324.8,186.05 325.2,185.38 325.6,184.66 326.0,183.92 326.4,183.18 326.8,182.45 327.2,181.69 327.6,180.90 328.0,180.10 328.4,179.30 328.8,178.49 329.2,177.70 329.6,176.93 330.0,176.18 330.4,175.48 330.8,174.81 331.2,174.19 331.6,173.57 332.0,172.96 332.4,172.38 332.8,171.87 333.2,171.45 333.6,171.13 334.0,170.85 334.4,170.59 334.8,170.35 335.2,170.17 335.6,170.04 336.0,170.00 336.4,170.04 336.8,170.14 337.2,170.28 337.6,170.44 338.0,170.60 338.4,170.77 338.8,170.97 339.2,171.19 339.6,171.40 340.0,171.60 340.4,171.78 340.8,171.96 341.2,172.14 341.6,172.32 342.0,172.49 342.4,172.66 342.8,172.83 343.2,172.99 343.6,173.16 344.0,173.32 344.4,173.48 344.8,173.64 345.2,173.79 345.6,173.95 346.0,174.10 346.4,174.26 346.8,174.41 347.2,174.56 347.6,174.71 348.0,174.87 348.4,175.02 348.8,175.17 349.2,175.32 349.6,175.47 350.0,175.62 350.4,175.78 350.8,175.93 351.2,176.09 351.6,176.24 352.0,176.40 352.4,176.56 352.8,176.72 353.2,176.88 353.6,177.04 354.0,177.21 354.4,177.37 354.8,177.54 355.2,177.71 355.6,177.89 356.0,178.07 356.4,178.25 356.8,178.43 357.2,178.62 357.6,178.81 358.0,179.00 358.4,179.20 358.8,179.40 359.2,179.61 359.6,179.83 360.0,180.05 360.4,180.28 360.8,180.51 361.2,180.74 361.6,180.98 362.0,181.22 362.4,181.46 362.8,181.70 363.2,181.95 363.6,182.20 364.0,182.45 364.4,182.70 364.8,182.95 365.2,183.19 365.6,183.44 366.0,183.69 366.4,183.93 366.8,184.18 367.2,184.42 367.6,184.66 368.0,184.89 368.4,185.12 368.8,185.35 369.2,185.57 369.6,185.79 370.0,186.00 370.4,186.21 370.8,186.44 371.2,186.66 371.6,186.89 372.0,187.12 372.4,187.35 372.8,187.58 373.2,187.79 373.6,188.00 374.0,188.19 374.4,188.37 374.8,188.54 375.2,188.68 375.6,188.80 376.0,188.90 376.4,188.98 376.8,189.07 377.2,189.15 377.6,189.22 378.0,189.28 378.4,189.33 378.8,189.37 379.2,189.39 379.6,189.39 380.0,189.27 380.4,189.02 380.8,188.68 381.2,188.30 381.6,187.90 382.0,187.38 382.4,186.73 382.8,185.99 383.2,185.20 383.6,184.40 384.0,183.63 384.4,182.93 384.8,182.24 385.2,181.54 385.6,180.84 386.0,180.13 386.4,179.43 386.8,178.74 387.2,178.06 387.6,177.40 388.0,176.76 388.4,176.16 388.8,175.59 389.2,175.06 389.6,174.58 390.0,174.11 390.4,173.65 390.8,173.23 391.2,172.85 391.6,172.53 392.0,172.30 392.4,172.12 392.8,171.95 393.2,171.80 393.6,171.69 394.0,171.62 394.4,171.60 394.8,171.63 395.2,171.69 395.6,171.77 396.0,171.87 396.4,171.97 396.8,172.09 397.2,172.24 397.6,172.41 398.0,172.59 398.4,172.78 398.8,172.96 399.2,173.12 399.6,173.28 400.0,173.44 400.4,173.59 400.8,173.75 401.2,173.90 401.6,174.05 402.0,174.20 402.4,174.35 402.8,174.50 403.2,174.64 403.6,174.79 404.0,174.94 404.4,175.08 404.8,175.22 405.2,175.37 405.6,175.51 406.0,175.65 406.4,175.79 406.8,175.93 407.2,176.08 407.6,176.22 408.0,176.36 408.4,176.50 408.8,176.64 409.2,176.79 409.6,176.93 410.0,177.07 410.4,177.22 410.8,177.36 411.2,177.51 411.6,177.65 412.0,177.80 412.4,177.95 412.8,178.10 413.2,178.25 413.6,178.40 414.0,178.55 414.4,178.71 414.8,178.87 415.2,179.03 415.6,179.19 416.0,179.35 416.4,179.51 416.8,179.68 417.2,179.85 417.6,180.02 418.0,180.19 418.4,180.37 418.8,180.54 419.2,180.72 419.6,180.91 420.0,181.09 420.4,181.29 420.8,181.49 421.2,181.70 421.6,181.91 422.0,182.13 422.4,182.36 422.8,182.58 423.2,182.82 423.6,183.05 424.0,183.29 424.4,183.53 424.8,183.77 425.2,184.02 425.6,184.26 426.0,184.50 426.4,184.74 426.8,184.98 427.2,185.21 427.6,185.45 428.0,185.68 428.4,185.90 428.8,186.12 429.2,186.34 429.6,186.55 430.0,186.75 430.4,186.95 430.8,187.16 431.2,187.38 431.6,187.61 432.0,187.85 432.4,188.08 432.8,188.29 433.2,188.49 433.6,188.67 434.0,188.81 434.4,188.92 434.8,188.98 435.2,189.00 435.6,188.91 436.0,188.72 436.4,188.46 436.8,188.16 437.2,187.80 437.6,187.23 438.0,186.50 438.4,185.73 438.8,185.03 439.2,184.35 439.6,183.66 440.0,182.96 440.4,182.25 440.8,181.53 441.2,180.81 441.6,180.10 442.0,179.39 442.4,178.69 442.8,178.00 443.2,177.32 443.6,176.67 444.0,176.03 444.4,175.42 444.8,174.84 445.2,174.27 445.6,173.68 446.0,173.10 446.4,172.55 446.8,172.08 447.2,171.70 447.6,171.45 448.0,171.24 448.4,171.06 448.8,170.89 449.2,170.76 449.6,170.66 450.0,170.61 450.4,170.60 450.8,170.64 451.2,170.69 451.6,170.77 452.0,170.87 452.4,170.97 452.8,171.12 453.2,171.36 453.6,171.65 454.0,171.95 454.4,172.20 454.8,172.42 455.2,172.63 455.6,172.84 456.0,173.04 456.4,173.25 456.8,173.44 457.2,173.64 457.6,173.83 458.0,174.02 458.4,174.21 458.8,174.40 459.2,174.58 459.6,174.76 460.0,174.94 460.4,175.11 460.8,175.29 461.2,175.46 461.6,175.63 462.0,175.80 462.4,175.97 462.8,176.14 463.2,176.30 463.6,176.47 464.0,176.63 464.4,176.80 464.8,176.96 465.2,177.12 465.6,177.29 466.0,177.45 466.4,177.61 466.8,177.77 467.2,177.94 467.6,178.10 468.0,178.26 468.4,178.43 468.8,178.59 469.2,178.76 469.6,178.93 470.0,179.09 470.4,179.26 470.8,179.43 471.2,179.61 471.6,179.78 472.0,179.96 472.4,180.13 472.8,180.31 473.2,180.49 473.6,180.67 474.0,180.84 474.4,181.02 474.8,181.20 475.2,181.38 475.6,181.55 476.0,181.73 476.4,181.91 476.8,182.09 477.2,182.26 477.6,182.44 478.0,182.62 478.4,182.80 478.8,182.98 479.2,183.15 479.6,183.33 480.0,183.51 480.4,183.69 480.8,183.87 481.2,184.05 481.6,184.22 482.0,184.40 482.4,184.58 482.8,184.76 483.2,184.94 483.6,185.12 484.0,185.30 484.4,185.48 484.8,185.65 485.2,185.83 485.6,186.01 486.0,186.19 486.4,186.37 486.8,186.55 487.2,186.73 487.6,186.91 488.0,187.09 488.4,187.27 488.7,187.40" fill="none" stroke="#ec3232" stroke-width="1.3" stroke-linejoin="round" stroke-linecap="round"/>
<polyline clip-path="url(#cB2)" points="282.0,180.40 282.4,180.50 282.8,180.61 283.2,180.71 283.6,180.82 284.0,180.93 284.4,181.05 284.8,181.16 285.2,181.28 285.6,181.40 286.0,181.52 286.4,181.64 286.8,181.77 287.2,181.90 287.6,182.03 288.0,182.16 288.4,182.30 288.8,182.43 289.2,182.57 289.6,182.71 290.0,182.85 290.4,182.99 290.8,183.14 291.2,183.29 291.6,183.43 292.0,183.58 292.4,183.74 292.8,183.89 293.2,184.04 293.6,184.20 294.0,184.36 294.4,184.51 294.8,184.67 295.2,184.84 295.6,185.00 296.0,185.16 296.4,185.33 296.8,185.49 297.2,185.66 297.6,185.83 298.0,186.00 298.4,186.17 298.8,186.35 299.2,186.52 299.6,186.70 300.0,186.89 300.4,187.07 300.8,187.26 301.2,187.45 301.6,187.64 302.0,187.84 302.4,188.04 302.8,188.24 303.2,188.44 303.6,188.65 304.0,188.85 304.4,189.06 304.8,189.28 305.2,189.49 305.6,189.71 306.0,189.93 306.4,190.15 306.8,190.38 307.2,190.61 307.6,190.84 308.0,191.07 308.4,191.30 308.8,191.54 309.2,191.77 309.6,192.02 310.0,192.26 310.4,192.50 310.8,192.75 311.2,193.00 311.6,193.25 312.0,193.50 312.4,193.77 312.8,194.08 313.2,194.40 313.6,194.74 314.0,195.07 314.4,195.40 314.8,195.70 315.2,195.98 315.6,196.22 316.0,196.40 316.4,196.56 316.8,196.71 317.2,196.86 317.6,196.97 318.0,197.06 318.4,197.10 318.8,197.08 319.2,197.01 319.6,196.90 320.0,196.75 320.4,196.58 320.8,196.40 321.2,196.19 321.6,195.91 322.0,195.57 322.4,195.17 322.8,194.73 323.2,194.26 323.6,193.70 324.0,193.06 324.4,192.37 324.8,191.64 325.2,190.91 325.6,190.18 326.0,189.50 326.4,188.83 326.8,188.14 327.2,187.45 327.6,186.75 328.0,186.06 328.4,185.39 328.8,184.74 329.2,184.12 329.6,183.54 330.0,183.00 330.4,182.49 330.8,182.00 331.2,181.53 331.6,181.08 332.0,180.66 332.4,180.28 332.8,179.95 333.2,179.66 333.6,179.36 334.0,179.07 334.4,178.79 334.8,178.54 335.2,178.32 335.6,178.15 336.0,178.04 336.4,178.00 336.8,178.04 337.2,178.16 337.6,178.32 338.0,178.51 338.4,178.71 338.8,179.01 339.2,179.37 339.6,179.72 340.0,180.00 340.4,180.22 340.8,180.44 341.2,180.65 341.6,180.85 342.0,181.05 342.4,181.24 342.8,181.42 343.2,181.60 343.6,181.77 344.0,181.94 344.4,182.10 344.8,182.26 345.2,182.42 345.6,182.57 346.0,182.71 346.4,182.86 346.8,183.00 347.2,183.14 347.6,183.27 348.0,183.40 348.4,183.54 348.8,183.67 349.2,183.80 349.6,183.93 350.0,184.05 350.4,184.18 350.8,184.31 351.2,184.44 351.6,184.57 352.0,184.70 352.4,184.83 352.8,184.97 353.2,185.10 353.6,185.24 354.0,185.38 354.4,185.52 354.8,185.67 355.2,185.82 355.6,185.98 356.0,186.13 356.4,186.30 356.8,186.47 357.2,186.64 357.6,186.82 358.0,187.00 358.4,187.19 358.8,187.38 359.2,187.58 359.6,187.78 360.0,187.98 360.4,188.19 360.8,188.40 361.2,188.61 361.6,188.83 362.0,189.05 362.4,189.27 362.8,189.50 363.2,189.72 363.6,189.95 364.0,190.18 364.4,190.41 364.8,190.65 365.2,190.89 365.6,191.12 366.0,191.36 366.4,191.60 366.8,191.85 367.2,192.09 367.6,192.33 368.0,192.58 368.4,192.82 368.8,193.06 369.2,193.31 369.6,193.55 370.0,193.80 370.4,194.06 370.8,194.34 371.2,194.63 371.6,194.92 372.0,195.22 372.4,195.50 372.8,195.77 373.2,196.01 373.6,196.23 374.0,196.40 374.4,196.56 374.8,196.71 375.2,196.85 375.6,196.97 376.0,197.06 376.4,197.10 376.8,197.08 377.2,197.01 377.6,196.90 378.0,196.75 378.4,196.58 378.8,196.39 379.2,196.19 379.6,195.92 380.0,195.57 380.4,195.19 380.8,194.80 381.2,194.40 381.6,194.00 382.0,193.57 382.4,193.12 382.8,192.66 383.2,192.18 383.6,191.69 384.0,191.18 384.4,190.67 384.8,190.13 385.2,189.55 385.6,188.95 386.0,188.33 386.4,187.69 386.8,187.05 387.2,186.41 387.6,185.78 388.0,185.17 388.4,184.57 388.8,184.00 389.2,183.47 389.6,182.98 390.0,182.50 390.4,182.03 390.8,181.59 391.2,181.18 391.6,180.81 392.0,180.50 392.4,180.21 392.8,179.93 393.2,179.67 393.6,179.46 394.0,179.33 394.4,179.30 394.8,179.36 395.2,179.47 395.6,179.61 396.0,179.78 396.4,179.96 396.8,180.14 397.2,180.36 397.6,180.62 398.0,180.88 398.4,181.15 398.8,181.39 399.2,181.60 399.6,181.81 400.0,182.01 400.4,182.21 400.8,182.40 401.2,182.60 401.6,182.78 402.0,182.97 402.4,183.15 402.8,183.33 403.2,183.51 403.6,183.69 404.0,183.86 404.4,184.03 404.8,184.20 405.2,184.37 405.6,184.53 406.0,184.70 406.4,184.86 406.8,185.02 407.2,185.18 407.6,185.34 408.0,185.50 408.4,185.66 408.8,185.82 409.2,185.97 409.6,186.13 410.0,186.28 410.4,186.44 410.8,186.60 411.2,186.75 411.6,186.91 412.0,187.06 412.4,187.22 412.8,187.38 413.2,187.54 413.6,187.70 414.0,187.86 414.4,188.02 414.8,188.18 415.2,188.35 415.6,188.52 416.0,188.69 416.4,188.86 416.8,189.03 417.2,189.20 417.6,189.38 418.0,189.56 418.4,189.74 418.8,189.93 419.2,190.11 419.6,190.30 420.0,190.50 420.4,190.70 420.8,190.91 421.2,191.12 421.6,191.34 422.0,191.56 422.4,191.78 422.8,192.01 423.2,192.23 423.6,192.46 424.0,192.69 424.4,192.92 424.8,193.15 425.2,193.37 425.6,193.59 426.0,193.81 426.4,194.02 426.8,194.22 427.2,194.42 427.6,194.62 428.0,194.80 428.4,194.99 428.8,195.20 429.2,195.41 429.6,195.62 430.0,195.81 430.4,195.98 430.8,196.10 431.2,196.18 431.6,196.20 432.0,196.18 432.4,196.14 432.8,196.07 433.2,195.99 433.6,195.90 434.0,195.80 434.4,195.65 434.8,195.43 435.2,195.14 435.6,194.81 436.0,194.46 436.4,194.09 436.8,193.71 437.2,193.27 437.6,192.79 438.0,192.27 438.4,191.73 438.8,191.17 439.2,190.60 439.6,190.04 440.0,189.50 440.4,188.96 440.8,188.39 441.2,187.82 441.6,187.24 442.0,186.65 442.4,186.06 442.8,185.48 443.2,184.91 443.6,184.35 444.0,183.81 444.4,183.30 444.8,182.82 445.2,182.35 445.6,181.89 446.0,181.43 446.4,180.99 446.8,180.57 447.2,180.20 447.6,179.87 448.0,179.60 448.4,179.36 448.8,179.13 449.2,178.91 449.6,178.72 450.0,178.59 450.4,178.51 450.8,178.51 451.2,178.60 451.6,178.76 452.0,178.95 452.4,179.15 452.8,179.36 453.2,179.61 453.6,179.89 454.0,180.18 454.4,180.44 454.8,180.67 455.2,180.90 455.6,181.12 456.0,181.34 456.4,181.56 456.8,181.78 457.2,181.99 457.6,182.20 458.0,182.41 458.4,182.62 458.8,182.82 459.2,183.02 459.6,183.22 460.0,183.42 460.4,183.62 460.8,183.81 461.2,184.01 461.6,184.20 462.0,184.39 462.4,184.58 462.8,184.77 463.2,184.95 463.6,185.14 464.0,185.32 464.4,185.51 464.8,185.69 465.2,185.87 465.6,186.05 466.0,186.23 466.4,186.42 466.8,186.60 467.2,186.78 467.6,186.96 468.0,187.14 468.4,187.32 468.8,187.50 469.2,187.68 469.6,187.86 470.0,188.04 470.4,188.22 470.8,188.40 471.2,188.59 471.6,188.77 472.0,188.95 472.4,189.14 472.8,189.32 473.2,189.51 473.6,189.69 474.0,189.88 474.4,190.06 474.8,190.24 475.2,190.43 475.6,190.61 476.0,190.79 476.4,190.97 476.8,191.16 477.2,191.34 477.6,191.52 478.0,191.70 478.4,191.88 478.8,192.06 479.2,192.24 479.6,192.42 480.0,192.60 480.4,192.77 480.8,192.95 481.2,193.13 481.6,193.31 482.0,193.48 482.4,193.66 482.8,193.84 483.2,194.01 483.6,194.19 484.0,194.37 484.4,194.54 484.8,194.72 485.2,194.89 485.6,195.06 486.0,195.24 486.4,195.41 486.8,195.58 487.2,195.76 487.6,195.93 488.0,196.10 488.4,196.27 488.7,196.40" fill="none" stroke="#2c2cd6" stroke-width="1.3" stroke-linejoin="round" stroke-linecap="round"/>
<polyline clip-path="url(#cB3)" points="282.0,265.90 282.4,265.87 282.8,265.85 283.2,265.82 283.6,265.79 284.0,265.77 284.4,265.74 284.8,265.71 285.2,265.69 285.6,265.66 286.0,265.64 286.4,265.62 286.8,265.59 287.2,265.57 287.6,265.55 288.0,265.52 288.4,265.50 288.8,265.48 289.2,265.46 289.6,265.44 290.0,265.42 290.4,265.40 290.8,265.38 291.2,265.36 291.6,265.35 292.0,265.33 292.4,265.31 292.8,265.30 293.2,265.28 293.6,265.27 294.0,265.25 294.4,265.24 294.8,265.23 295.2,265.22 295.6,265.21 296.0,265.20 296.4,265.19 296.8,265.18 297.2,265.16 297.6,265.15 298.0,265.14 298.4,265.13 298.8,265.12 299.2,265.11 299.6,265.10 300.0,265.09 300.4,265.08 300.8,265.06 301.2,265.05 301.6,265.03 302.0,265.02 302.4,265.00 302.8,264.98 303.2,264.96 303.6,264.94 304.0,264.92 304.4,264.90 304.8,264.87 305.2,264.85 305.6,264.82 306.0,264.79 306.4,264.76 306.8,264.72 307.2,264.68 307.6,264.64 308.0,264.60 308.4,264.55 308.8,264.49 309.2,264.43 309.6,264.35 310.0,264.26 310.4,264.15 310.8,264.03 311.2,263.90 311.6,263.72 312.0,263.47 312.4,263.15 312.8,262.78 313.2,262.36 313.6,261.92 314.0,261.44 314.4,260.94 314.8,260.30 315.2,259.57 315.6,258.77 316.0,257.96 316.4,257.17 316.8,256.45 317.2,255.77 317.6,255.07 318.0,254.30 318.4,253.40 318.8,252.40 319.2,251.34 319.6,250.29 320.0,249.30 320.4,248.29 320.8,247.31 321.2,246.60 321.6,246.11 322.0,245.82 322.4,245.86 322.8,246.10 323.2,246.40 323.6,246.80 324.0,247.34 324.4,247.97 324.8,248.64 325.2,249.42 325.6,250.27 326.0,251.17 326.4,252.08 326.8,252.98 327.2,253.92 327.6,254.89 328.0,255.87 328.4,256.85 328.8,257.82 329.2,258.76 329.6,259.67 330.0,260.52 330.4,261.37 330.8,262.20 331.2,263.01 331.6,263.80 332.0,264.56 332.4,265.29 332.8,265.97 333.2,266.62 333.6,267.22 334.0,267.79 334.4,268.33 334.8,268.86 335.2,269.38 335.6,269.90 336.0,270.52 336.4,271.13 336.8,271.40 337.2,271.11 337.6,270.50 338.0,269.89 338.4,269.17 338.8,268.52 339.2,268.08 339.6,267.68 340.0,267.32 340.4,267.01 340.8,266.74 341.2,266.53 341.6,266.36 342.0,266.23 342.4,266.10 342.8,265.99 343.2,265.89 343.6,265.80 344.0,265.72 344.4,265.66 344.8,265.62 345.2,265.58 345.6,265.56 346.0,265.53 346.4,265.50 346.8,265.48 347.2,265.46 347.6,265.44 348.0,265.42 348.4,265.40 348.8,265.39 349.2,265.37 349.6,265.36 350.0,265.35 350.4,265.34 350.8,265.33 351.2,265.32 351.6,265.31 352.0,265.30 352.4,265.29 352.8,265.29 353.2,265.28 353.6,265.28 354.0,265.27 354.4,265.27 354.8,265.26 355.2,265.26 355.6,265.26 356.0,265.25 356.4,265.25 356.8,265.25 357.2,265.24 357.6,265.24 358.0,265.23 358.4,265.23 358.8,265.22 359.2,265.22 359.6,265.21 360.0,265.20 360.4,265.19 360.8,265.17 361.2,265.15 361.6,265.12 362.0,265.08 362.4,265.05 362.8,265.00 363.2,264.96 363.6,264.91 364.0,264.86 364.4,264.81 364.8,264.75 365.2,264.70 365.6,264.64 366.0,264.58 366.4,264.51 366.8,264.44 367.2,264.36 367.6,264.26 368.0,264.16 368.4,264.04 368.8,263.91 369.2,263.76 369.6,263.54 370.0,263.24 370.4,262.89 370.8,262.48 371.2,262.05 371.6,261.61 372.0,261.15 372.4,260.65 372.8,260.09 373.2,259.50 373.6,258.87 374.0,258.21 374.4,257.53 374.8,256.82 375.2,256.04 375.6,255.20 376.0,254.32 376.4,253.42 376.8,252.52 377.2,251.61 377.6,250.61 378.0,249.61 378.4,248.70 378.8,247.95 379.2,247.36 379.6,246.80 380.0,246.41 380.4,246.30 380.8,246.37 381.2,246.51 381.6,246.74 382.0,247.27 382.4,247.95 382.8,248.65 383.2,249.40 383.6,250.24 384.0,251.12 384.4,252.05 384.8,253.00 385.2,254.01 385.6,255.10 386.0,256.23 386.4,257.38 386.8,258.51 387.2,259.59 387.6,260.60 388.0,261.60 388.4,262.60 388.8,263.56 389.2,264.47 389.6,265.29 390.0,266.00 390.4,266.63 390.8,267.21 391.2,267.75 391.6,268.24 392.0,268.70 392.4,269.11 392.8,269.50 393.2,269.90 393.6,270.21 394.0,270.28 394.4,269.95 394.8,269.37 395.2,268.80 395.6,268.25 396.0,267.66 396.4,267.18 396.8,266.88 397.2,266.59 397.6,266.33 398.0,266.09 398.4,265.88 398.8,265.70 399.2,265.56 399.6,265.46 400.0,265.40 400.4,265.37 400.8,265.34 401.2,265.31 401.6,265.28 402.0,265.26 402.4,265.24 402.8,265.22 403.2,265.20 403.6,265.19 404.0,265.17 404.4,265.16 404.8,265.15 405.2,265.14 405.6,265.13 406.0,265.12 406.4,265.11 406.8,265.10 407.2,265.09 407.6,265.08 408.0,265.07 408.4,265.05 408.8,265.04 409.2,265.03 409.6,265.02 410.0,265.00 410.4,264.98 410.8,264.97 411.2,264.95 411.6,264.94 412.0,264.93 412.4,264.91 412.8,264.90 413.2,264.88 413.6,264.87 414.0,264.86 414.4,264.84 414.8,264.83 415.2,264.82 415.6,264.80 416.0,264.79 416.4,264.77 416.8,264.75 417.2,264.74 417.6,264.72 418.0,264.70 418.4,264.68 418.8,264.66 419.2,264.64 419.6,264.62 420.0,264.60 420.4,264.58 420.8,264.55 421.2,264.53 421.6,264.50 422.0,264.48 422.4,264.45 422.8,264.42 423.2,264.38 423.6,264.34 424.0,264.30 424.4,264.25 424.8,264.19 425.2,264.13 425.6,264.06 426.0,263.95 426.4,263.79 426.8,263.59 427.2,263.36 427.6,263.09 428.0,262.80 428.4,262.40 428.8,261.86 429.2,261.20 429.6,260.48 430.0,259.73 430.4,259.00 430.8,258.28 431.2,257.52 431.6,256.72 432.0,255.88 432.4,254.96 432.8,253.92 433.2,252.78 433.6,251.61 434.0,250.48 434.4,249.45 434.8,248.39 435.2,247.37 435.6,246.57 436.0,246.09 436.4,245.71 436.8,245.51 437.2,245.56 437.6,245.80 438.0,246.12 438.4,246.49 438.8,247.01 439.2,247.63 439.6,248.38 440.0,249.33 440.4,250.40 440.8,251.50 441.2,252.56 441.6,253.62 442.0,254.72 442.4,255.84 442.8,256.95 443.2,258.04 443.6,259.10 444.0,260.10 444.4,261.03 444.8,261.91 445.2,262.77 445.6,263.61 446.0,264.41 446.4,265.19 446.8,265.93 447.2,266.63 447.6,267.30 448.0,267.99 448.4,268.74 448.8,269.47 449.2,270.14 449.6,270.69 450.0,271.06 450.4,271.20 450.8,271.05 451.2,270.71 451.6,270.30 452.0,269.80 452.4,269.15 452.8,268.49 453.2,267.91 453.6,267.48 454.0,267.06 454.4,266.67 454.8,266.31 455.2,266.02 455.6,265.80 456.0,265.68 456.4,265.58 456.8,265.50 457.2,265.43 457.6,265.36 458.0,265.30 458.4,265.24 458.8,265.19 459.2,265.14 459.6,265.10 460.0,265.06 460.4,265.03 460.8,264.99 461.2,264.96 461.6,264.92 462.0,264.89 462.4,264.86 462.8,264.82 463.2,264.78 463.6,264.74 464.0,264.71 464.4,264.67 464.8,264.63 465.2,264.60 465.6,264.57 466.0,264.53 466.4,264.50 466.8,264.47 467.2,264.44 467.6,264.41 468.0,264.38 468.4,264.35 468.8,264.32 469.2,264.29 469.6,264.26 470.0,264.24 470.4,264.21 470.8,264.18 471.2,264.15 471.6,264.12 472.0,264.10 472.4,264.07 472.8,264.04 473.2,264.01 473.6,263.98 474.0,263.95 474.4,263.92 474.8,263.89 475.2,263.86 475.6,263.83 476.0,263.80 476.4,263.77 476.8,263.74 477.2,263.72 477.6,263.69 478.0,263.67 478.4,263.64 478.8,263.62 479.2,263.60 479.6,263.57 480.0,263.55 480.4,263.52 480.8,263.48 481.2,263.45 481.6,263.41 482.0,263.37 482.4,263.32 482.8,263.26 483.2,263.20 483.6,263.10 484.0,262.95 484.4,262.76 484.8,262.53 485.2,262.29 485.6,262.03 486.0,261.77 486.4,261.48 486.8,261.16 487.2,260.81 487.6,260.44 488.0,260.04 488.4,259.63 488.7,259.30" fill="none" stroke="#2c2cd6" stroke-width="1.3" stroke-linejoin="round" stroke-linecap="round"/>
<circle cx="53" cy="72" r="2.2" fill="none" stroke="#ec3232" stroke-width="1.25"/>
<circle cx="101.6" cy="72" r="2.2" fill="none" stroke="#ec3232" stroke-width="1.25"/>
<circle cx="150.5" cy="72" r="2.2" fill="none" stroke="#ec3232" stroke-width="1.25"/>
<circle cx="199.3" cy="72" r="2.2" fill="none" stroke="#ec3232" stroke-width="1.25"/>
<rect x="67.80" y="70.40" width="3.2" height="3.2" fill="none" stroke="#2c2cd6" stroke-width="1.35"/>
<rect x="116.00" y="70.40" width="3.2" height="3.2" fill="none" stroke="#2c2cd6" stroke-width="1.35"/>
<rect x="166.30" y="70.40" width="3.2" height="3.2" fill="none" stroke="#2c2cd6" stroke-width="1.35"/>
<rect x="214.00" y="70.40" width="3.2" height="3.2" fill="none" stroke="#2c2cd6" stroke-width="1.35"/>
<circle cx="47.9" cy="136.2" r="2.2" fill="none" stroke="#ec3232" stroke-width="1.25"/>
<circle cx="94.6" cy="136.4" r="2.2" fill="none" stroke="#ec3232" stroke-width="1.25"/>
<circle cx="144.5" cy="136.4" r="2.2" fill="none" stroke="#ec3232" stroke-width="1.25"/>
<circle cx="193.6" cy="136.4" r="2.2" fill="none" stroke="#ec3232" stroke-width="1.25"/>
<rect x="69.10" y="137.00" width="3.2" height="3.2" fill="none" stroke="#2c2cd6" stroke-width="1.35"/>
<rect x="117.00" y="137.20" width="3.2" height="3.2" fill="none" stroke="#2c2cd6" stroke-width="1.35"/>
<rect x="167.30" y="136.80" width="3.2" height="3.2" fill="none" stroke="#2c2cd6" stroke-width="1.35"/>
<rect x="215.00" y="136.80" width="3.2" height="3.2" fill="none" stroke="#2c2cd6" stroke-width="1.35"/>
<circle cx="52.7" cy="200.2" r="2.2" fill="none" stroke="#ec3232" stroke-width="1.25"/>
<circle cx="101.3" cy="201.0" r="2.2" fill="none" stroke="#ec3232" stroke-width="1.25"/>
<circle cx="150.2" cy="201.0" r="2.2" fill="none" stroke="#ec3232" stroke-width="1.25"/>
<circle cx="199.1" cy="200.8" r="2.2" fill="none" stroke="#ec3232" stroke-width="1.25"/>
<rect x="67.40" y="172.30" width="3.2" height="3.2" fill="none" stroke="#2c2cd6" stroke-width="1.35"/>
<rect x="116.10" y="173.00" width="3.2" height="3.2" fill="none" stroke="#2c2cd6" stroke-width="1.35"/>
<rect x="165.30" y="172.70" width="3.2" height="3.2" fill="none" stroke="#2c2cd6" stroke-width="1.35"/>
<rect x="213.80" y="173.00" width="3.2" height="3.2" fill="none" stroke="#2c2cd6" stroke-width="1.35"/>
<circle cx="48.5" cy="254.4" r="2.2" fill="none" stroke="#ec3232" stroke-width="1.25"/>
<circle cx="97" cy="253.7" r="2.2" fill="none" stroke="#ec3232" stroke-width="1.25"/>
<circle cx="145.6" cy="255.4" r="2.2" fill="none" stroke="#ec3232" stroke-width="1.25"/>
<circle cx="194.5" cy="255.6" r="2.2" fill="none" stroke="#ec3232" stroke-width="1.25"/>
<rect x="67.40" y="276.40" width="3.2" height="3.2" fill="none" stroke="#2c2cd6" stroke-width="1.35"/>
<rect x="116.00" y="276.40" width="3.2" height="3.2" fill="none" stroke="#2c2cd6" stroke-width="1.35"/>
<rect x="165.70" y="276.40" width="3.2" height="3.2" fill="none" stroke="#2c2cd6" stroke-width="1.35"/>
<rect x="213.70" y="276.40" width="3.2" height="3.2" fill="none" stroke="#2c2cd6" stroke-width="1.35"/>
<circle cx="321" cy="71" r="2.2" fill="none" stroke="#ec3232" stroke-width="1.25"/>
<circle cx="379.2" cy="70.8" r="2.2" fill="none" stroke="#ec3232" stroke-width="1.25"/>
<circle cx="436.2" cy="70.7" r="2.2" fill="none" stroke="#ec3232" stroke-width="1.25"/>
<rect x="334.60" y="69.40" width="3.2" height="3.2" fill="none" stroke="#2c2cd6" stroke-width="1.35"/>
<rect x="391.20" y="69.10" width="3.2" height="3.2" fill="none" stroke="#2c2cd6" stroke-width="1.35"/>
<rect x="448.80" y="69.10" width="3.2" height="3.2" fill="none" stroke="#2c2cd6" stroke-width="1.35"/>
<circle cx="317.9" cy="135" r="2.2" fill="none" stroke="#ec3232" stroke-width="1.25"/>
<circle cx="375.3" cy="134.6" r="2.2" fill="none" stroke="#ec3232" stroke-width="1.25"/>
<circle cx="432.3" cy="134.6" r="2.2" fill="none" stroke="#ec3232" stroke-width="1.25"/>
<rect x="335.70" y="134.70" width="3.2" height="3.2" fill="none" stroke="#2c2cd6" stroke-width="1.35"/>
<rect x="392.50" y="134.40" width="3.2" height="3.2" fill="none" stroke="#2c2cd6" stroke-width="1.35"/>
<rect x="449.50" y="134.40" width="3.2" height="3.2" fill="none" stroke="#2c2cd6" stroke-width="1.35"/>
<circle cx="320.6" cy="189.4" r="2.2" fill="none" stroke="#ec3232" stroke-width="1.25"/>
<circle cx="379.5" cy="189.2" r="2.2" fill="none" stroke="#ec3232" stroke-width="1.25"/>
<circle cx="435.1" cy="189" r="2.2" fill="none" stroke="#ec3232" stroke-width="1.25"/>
<rect x="334.80" y="176.40" width="3.2" height="3.2" fill="none" stroke="#2c2cd6" stroke-width="1.35"/>
<rect x="392.70" y="177.70" width="3.2" height="3.2" fill="none" stroke="#2c2cd6" stroke-width="1.35"/>
<rect x="449.00" y="176.90" width="3.2" height="3.2" fill="none" stroke="#2c2cd6" stroke-width="1.35"/>
<circle cx="318" cy="254.2" r="2.2" fill="none" stroke="#ec3232" stroke-width="1.25"/>
<circle cx="374.7" cy="257.2" r="2.2" fill="none" stroke="#ec3232" stroke-width="1.25"/>
<circle cx="432.3" cy="255.2" r="2.2" fill="none" stroke="#ec3232" stroke-width="1.25"/>
<rect x="335.20" y="269.80" width="3.2" height="3.2" fill="none" stroke="#2c2cd6" stroke-width="1.35"/>
<rect x="392.30" y="268.60" width="3.2" height="3.2" fill="none" stroke="#2c2cd6" stroke-width="1.35"/>
<rect x="448.80" y="269.60" width="3.2" height="3.2" fill="none" stroke="#2c2cd6" stroke-width="1.35"/>
<text x="13.6" y="14.4" class="hd">(A) Healthy Participant</text>
<text x="260.4" y="13.6" class="hd">(B) PsA Individual</text>
<text x="132.7" y="299.0" text-anchor="middle" class="yl">Time (s)</text>
<text x="385.8" y="300.6" text-anchor="middle" class="yl">Time (s)</text>
<path d="M490.2 31.5H502.8" stroke="#2c2cd6" stroke-width="1.55"/>
<text transform="translate(504.0 33.95) scale(0.92 1)" class="lg">Force-plate</text>
<rect x="495.20" y="37.20" width="3.2" height="3.2" fill="none" stroke="#2c2cd6" stroke-width="1.35"/>
<text transform="translate(504.0 40.95) scale(0.92 1)" class="lg">HS</text>
<circle cx="496.6" cy="46.3" r="2.2" fill="none" stroke="#ec3232" stroke-width="1.25"/>
<text transform="translate(504.0 48.45) scale(0.92 1)" class="lg">TO</text>
<path d="M490.2 103.4H502.8" stroke="#2c2cd6" stroke-width="1.55"/>
<text transform="translate(504.0 102.25) scale(0.92 1)" class="lg">Heel marker</text>
<text transform="translate(504.0 109.25) scale(0.92 1)" class="lg">vertical position</text>
<path d="M490.2 117.7H502.8" stroke="#ec3232" stroke-width="1.55"/>
<text transform="translate(504.0 116.95) scale(0.92 1)" class="lg">Toe marker</text>
<text transform="translate(504.0 123.95) scale(0.92 1)" class="lg">vertical position</text>
<rect x="495.20" y="127.50" width="3.2" height="3.2" fill="none" stroke="#2c2cd6" stroke-width="1.35"/>
<text transform="translate(504.0 131.25) scale(0.92 1)" class="lg">HS</text>
<circle cx="496.6" cy="136.1" r="2.2" fill="none" stroke="#ec3232" stroke-width="1.25"/>
<text transform="translate(504.0 138.25) scale(0.92 1)" class="lg">TO</text>
<path d="M490.2 175.9H502.8" stroke="#2c2cd6" stroke-width="1.55"/>
<text transform="translate(504.0 171.05) scale(0.92 1)" class="lg">Heel to Sacrum</text>
<text transform="translate(504.0 178.05) scale(0.92 1)" class="lg">relative position</text>
<text transform="translate(504.0 184.95) scale(0.92 1)" class="lg">(progression)</text>
<path d="M490.2 197.8H502.8" stroke="#ec3232" stroke-width="1.55"/>
<text transform="translate(504.0 192.95) scale(0.92 1)" class="lg">Toe to Sacrum</text>
<text transform="translate(504.0 200.05) scale(0.92 1)" class="lg">relative position</text>
<text transform="translate(504.0 207.05) scale(0.92 1)" class="lg">(progression)</text>
<rect x="495.20" y="210.00" width="3.2" height="3.2" fill="none" stroke="#2c2cd6" stroke-width="1.35"/>
<text transform="translate(504.0 213.75) scale(0.92 1)" class="lg">HS</text>
<circle cx="496.6" cy="219.5" r="2.2" fill="none" stroke="#ec3232" stroke-width="1.25"/>
<text transform="translate(504.0 221.65) scale(0.92 1)" class="lg">TO</text>
<path d="M490.2 246.7H502.8" stroke="#2c2cd6" stroke-width="1.55"/>
<text transform="translate(504.0 242.05) scale(0.92 1)" class="lg">Heel to Toe</text>
<text transform="translate(504.0 249.05) scale(0.92 1)" class="lg">relative vertical</text>
<text transform="translate(504.0 256.25) scale(0.92 1)" class="lg">position</text>
<rect x="495.20" y="259.80" width="3.2" height="3.2" fill="none" stroke="#2c2cd6" stroke-width="1.35"/>
<text transform="translate(504.0 263.55) scale(0.92 1)" class="lg">HS</text>
<circle cx="496.6" cy="269.0" r="2.2" fill="none" stroke="#ec3232" stroke-width="1.25"/>
<text transform="translate(504.0 271.15) scale(0.92 1)" class="lg">TO</text>
</svg></body></html>
